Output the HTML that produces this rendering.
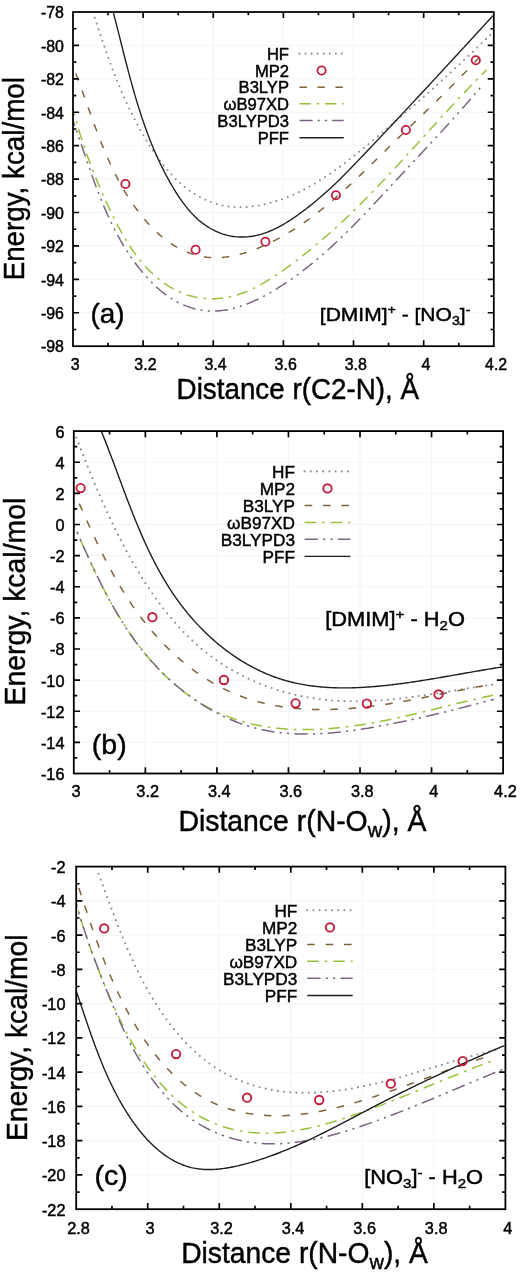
<!DOCTYPE html>
<html><head><meta charset="utf-8"><title>Energy curves</title>
<style>html,body{margin:0;padding:0;background:#fff;}body{width:520px;height:1274px;overflow:hidden;}svg{display:block;}</style>
</head><body>
<svg width="520" height="1274" viewBox="0 0 520 1274">
<style>text{stroke:#000;stroke-width:0.45px;paint-order:stroke;}</style>
<defs>
<clipPath id="clipa"><rect x="73" y="12" width="420.8" height="334.2"/></clipPath>
<clipPath id="clipb"><rect x="73.8" y="431.1" width="429.3" height="342.4"/></clipPath>
<clipPath id="clipc"><rect x="76.2" y="866.6" width="429.2" height="342.6"/></clipPath>
</defs>
<path d="M143.13,12V346.2M213.27,12V346.2M283.4,12V346.2M353.53,12V346.2M423.67,12V346.2M73,45.42H493.8M73,78.84H493.8M73,112.26H493.8M73,145.68H493.8M73,179.1H493.8M73,212.52H493.8M73,245.94H493.8M73,279.36H493.8M73,312.78H493.8" stroke="#f4f4f4" stroke-width="1" fill="none"/>
<g clip-path="url(#clipa)" fill="none">
<path d="M94.82,17.86 L95.27,19.23 L95.71,20.6 L96.16,21.97 L96.6,23.34 L97.05,24.71 L97.5,26.07 L97.94,27.43 L98.39,28.8 L98.84,30.16 L99.29,31.52 L99.74,32.87 L100.19,34.23 L100.65,35.58 L101.1,36.93 L101.55,38.29 L102.01,39.64 L102.47,40.98 L102.92,42.33 L103.38,43.67 L103.85,45.02 L104.31,46.36 L104.77,47.7 L105.24,49.04 L105.7,50.38 L106.17,51.71 L106.64,53.05 L107.12,54.38 L107.59,55.71 L108.07,57.04 L108.55,58.37 L109.03,59.69 L109.51,61.02 L110,62.34 L110.48,63.66 L110.97,64.98 L111.47,66.3 L111.96,67.62 L112.46,68.93 L112.96,70.24 L113.46,71.56 L113.97,72.87 L114.47,74.18 L114.98,75.48 L115.5,76.79 L116.01,78.09 L116.53,79.4 L117.06,80.7 L117.58,82 L118.11,83.29 L118.64,84.59 L119.18,85.89 L119.72,87.18 L120.26,88.47 L120.81,89.76 L121.36,91.05 L121.91,92.34 L122.47,93.62 L123.03,94.9 L123.59,96.19 L124.16,97.47 L124.74,98.74 L125.31,100.02 L125.89,101.3 L126.48,102.57 L127.07,103.84 L127.66,105.11 L128.26,106.38 L128.86,107.65 L129.47,108.92 L130.08,110.18 L130.69,111.44 L131.31,112.7 L131.94,113.96 L132.57,115.22 L133.2,116.48 L133.84,117.73 L134.49,118.98 L135.13,120.24 L135.79,121.48 L136.45,122.73 L137.11,123.98 L137.78,125.22 L138.46,126.47 L139.14,127.71 L139.82,128.95 L140.52,130.19 L141.21,131.42 L141.92,132.66 L142.62,133.89 L143.34,135.12 L144.06,136.35 L144.78,137.58 L145.52,138.81 L146.25,140.03 L147,141.25 L147.75,142.48 L148.5,143.7 L149.27,144.91 L150.04,146.13 L150.81,147.34 L151.59,148.54 L152.38,149.75 L153.18,150.95 L153.98,152.14 L154.79,153.33 L155.61,154.52 L156.43,155.7 L157.26,156.88 L158.1,158.05 L158.95,159.21 L159.8,160.37 L160.66,161.52 L161.53,162.66 L162.41,163.79 L163.3,164.92 L164.19,166.04 L165.09,167.15 L166,168.26 L166.92,169.35 L167.85,170.44 L168.79,171.51 L169.73,172.58 L170.69,173.63 L171.65,174.68 L172.62,175.71 L173.6,176.74 L174.59,177.75 L175.59,178.75 L176.6,179.74 L177.62,180.71 L178.65,181.68 L179.69,182.63 L180.73,183.57 L181.79,184.49 L182.86,185.4 L183.94,186.3 L185.03,187.18 L186.12,188.05 L187.23,188.9 L188.35,189.74 L189.48,190.56 L190.62,191.37 L191.78,192.16 L192.94,192.93 L194.11,193.68 L195.3,194.42 L196.49,195.14 L197.7,195.85 L198.92,196.53 L200.15,197.2 L201.39,197.85 L202.64,198.48 L203.9,199.09 L205.17,199.68 L206.45,200.25 L207.74,200.8 L209.04,201.33 L210.35,201.84 L211.66,202.33 L212.99,202.79 L214.32,203.23 L215.65,203.66 L217,204.05 L218.35,204.43 L219.71,204.78 L221.07,205.11 L222.44,205.41 L223.81,205.69 L225.19,205.95 L226.58,206.18 L227.97,206.38 L229.36,206.56 L230.76,206.72 L232.16,206.85 L233.56,206.95 L234.97,207.04 L236.37,207.1 L237.78,207.14 L239.19,207.15 L240.61,207.15 L242.02,207.12 L243.43,207.08 L244.84,207.01 L246.25,206.93 L247.66,206.83 L249.07,206.71 L250.48,206.57 L251.88,206.41 L253.28,206.24 L254.68,206.05 L256.08,205.84 L257.47,205.62 L258.85,205.38 L260.23,205.13 L261.61,204.87 L262.98,204.59 L264.35,204.3 L265.72,203.99 L267.08,203.67 L268.43,203.34 L269.78,202.99 L271.13,202.63 L272.47,202.26 L273.81,201.87 L275.14,201.47 L276.47,201.06 L277.79,200.64 L279.12,200.2 L280.43,199.75 L281.75,199.29 L283.05,198.82 L284.36,198.33 L285.66,197.84 L286.96,197.33 L288.25,196.81 L289.54,196.28 L290.82,195.74 L292.1,195.19 L293.38,194.63 L294.66,194.06 L295.93,193.48 L297.19,192.89 L298.46,192.29 L299.71,191.67 L300.97,191.05 L302.22,190.42 L303.47,189.78 L304.72,189.13 L305.96,188.47 L307.19,187.81 L308.43,187.13 L309.66,186.45 L310.89,185.76 L312.11,185.05 L313.33,184.35 L314.55,183.63 L315.77,182.9 L316.98,182.17 L318.19,181.43 L319.39,180.69 L320.6,179.93 L321.8,179.17 L322.99,178.4 L324.18,177.63 L325.38,176.85 L326.56,176.06 L327.75,175.27 L328.93,174.47 L330.11,173.67 L331.28,172.85 L332.46,172.04 L333.63,171.22 L334.8,170.39 L335.96,169.56 L337.12,168.72 L338.28,167.88 L339.44,167.03 L340.6,166.18 L341.75,165.33 L342.9,164.47 L344.05,163.61 L345.19,162.74 L346.34,161.87 L347.48,160.99 L348.61,160.12 L349.75,159.24 L350.88,158.35 L352.02,157.47 L353.15,156.58 L354.27,155.68 L355.4,154.79 L356.52,153.89 L357.64,153 L358.76,152.1 L359.88,151.19 L360.99,150.29 L362.11,149.38 L363.22,148.48 L364.33,147.57 L365.43,146.66 L366.54,145.75 L367.64,144.84 L368.75,143.93 L369.85,143.02 L370.95,142.11 L372.04,141.2 L373.14,140.28 L374.23,139.37 L375.32,138.46 L376.42,137.55 L377.51,136.64 L378.59,135.73 L379.68,134.82 L380.77,133.91 L381.85,133 L382.93,132.09 L384.01,131.18 L385.09,130.27 L386.17,129.35 L387.25,128.44 L388.32,127.53 L389.4,126.62 L390.47,125.71 L391.54,124.8 L392.61,123.89 L393.68,122.98 L394.75,122.07 L395.82,121.15 L396.88,120.24 L397.95,119.33 L399.01,118.42 L400.07,117.5 L401.13,116.59 L402.19,115.67 L403.25,114.76 L404.31,113.85 L405.37,112.93 L406.43,112.01 L407.48,111.1 L408.54,110.18 L409.59,109.27 L410.64,108.35 L411.7,107.43 L412.75,106.51 L413.8,105.59 L414.85,104.67 L415.89,103.75 L416.94,102.83 L417.99,101.91 L419.04,100.99 L420.08,100.06 L421.13,99.14 L422.17,98.22 L423.22,97.29 L424.26,96.36 L425.3,95.44 L426.34,94.51 L427.39,93.58 L428.43,92.65 L429.47,91.72 L430.51,90.79 L431.55,89.86 L432.58,88.93 L433.62,87.99 L434.66,87.06 L435.7,86.12 L436.74,85.18 L437.77,84.25 L438.81,83.31 L439.85,82.37 L440.88,81.43 L441.92,80.48 L442.95,79.54 L443.99,78.6 L445.03,77.65 L446.06,76.7 L447.1,75.76 L448.13,74.81 L449.16,73.85 L450.2,72.9 L451.23,71.95 L452.27,71 L453.3,70.04 L454.34,69.08 L455.37,68.12 L456.4,67.16 L457.44,66.2 L458.47,65.24 L459.51,64.27 L460.54,63.31 L461.58,62.34 L462.61,61.37 L463.65,60.4 L464.68,59.43 L465.72,58.46 L466.75,57.48 L467.79,56.5 L468.82,55.52 L469.86,54.54 L470.9,53.56 L471.93,52.58 L472.97,51.59 L474.01,50.61 L475.05,49.62 L476.08,48.63 L477.12,47.64 L478.16,46.64 L479.2,45.64 L480.24,44.65 L481.28,43.65 L482.32,42.65 L483.36,41.64 L484.41,40.64 L485.45,39.63 L486.49,38.62 L487.54,37.61 L488.58,36.59 L489.63,35.58 L490.67,34.56" stroke="#8e8e8e" stroke-width="2.05" stroke-linecap="round" stroke-linejoin="round" stroke-dasharray="0 6.06"/>
<path d="M69.25,56.85 L72.91,66.16 L73.45,67.53 L73.99,68.9 L74.53,70.27 L75.07,71.65 L75.6,73.03 L76.13,74.41 L76.65,75.79 L77.18,77.17 L77.7,78.56 L78.22,79.94 L78.73,81.33 L79.25,82.72 L79.76,84.11 L80.27,85.5 L80.78,86.9 L81.29,88.29 L81.8,89.69 L82.3,91.08 L82.81,92.48 L83.31,93.88 L83.81,95.28 L84.32,96.68 L84.82,98.08 L85.32,99.48 L85.82,100.88 L86.32,102.28 L86.82,103.69 L87.32,105.09 L87.82,106.49 L88.33,107.9 L88.83,109.3 L89.33,110.7 L89.83,112.11 L90.34,113.51 L90.84,114.91 L91.35,116.32 L91.85,117.72 L92.36,119.12 L92.87,120.53 L93.38,121.93 L93.9,123.33 L94.41,124.73 L94.93,126.13 L95.45,127.53 L95.97,128.92 L96.49,130.32 L97.02,131.72 L97.54,133.11 L98.08,134.5 L98.61,135.9 L99.15,137.29 L99.69,138.68 L100.23,140.07 L100.78,141.45 L101.33,142.84 L101.88,144.22 L102.44,145.6 L103,146.98 L103.57,148.36 L104.13,149.74 L104.71,151.11 L105.29,152.48 L105.87,153.85 L106.46,155.22 L107.05,156.59 L107.64,157.95 L108.25,159.31 L108.85,160.67 L109.47,162.03 L110.08,163.38 L110.71,164.73 L111.33,166.08 L111.97,167.42 L112.61,168.77 L113.26,170.11 L113.91,171.44 L114.57,172.77 L115.23,174.1 L115.9,175.43 L116.58,176.75 L117.27,178.07 L117.96,179.39 L118.66,180.7 L119.36,182.01 L120.08,183.32 L120.8,184.62 L121.53,185.92 L122.26,187.21 L123,188.5 L123.76,189.79 L124.52,191.07 L125.28,192.35 L126.06,193.62 L126.84,194.89 L127.64,196.16 L128.44,197.42 L129.25,198.67 L130.07,199.93 L130.9,201.17 L131.73,202.42 L132.58,203.65 L133.44,204.89 L134.3,206.11 L135.18,207.34 L136.06,208.55 L136.96,209.77 L137.86,210.97 L138.78,212.17 L139.71,213.37 L140.64,214.56 L141.59,215.75 L142.55,216.93 L143.52,218.1 L144.49,219.27 L145.48,220.43 L146.48,221.58 L147.49,222.72 L148.52,223.86 L149.55,224.98 L150.59,226.09 L151.65,227.2 L152.71,228.29 L153.79,229.37 L154.88,230.44 L155.98,231.49 L157.09,232.53 L158.21,233.56 L159.34,234.58 L160.48,235.57 L161.63,236.56 L162.8,237.52 L163.98,238.47 L165.16,239.4 L166.36,240.32 L167.57,241.21 L168.79,242.09 L170.03,242.95 L171.27,243.79 L172.52,244.6 L173.79,245.4 L175.06,246.18 L176.35,246.93 L177.64,247.66 L178.94,248.37 L180.25,249.06 L181.57,249.72 L182.9,250.36 L184.24,250.98 L185.58,251.57 L186.93,252.14 L188.29,252.68 L189.65,253.19 L191.02,253.68 L192.4,254.15 L193.78,254.58 L195.17,254.99 L196.56,255.37 L197.96,255.72 L199.36,256.05 L200.76,256.34 L202.17,256.61 L203.58,256.84 L205,257.05 L206.42,257.23 L207.84,257.38 L209.27,257.5 L210.7,257.6 L212.13,257.67 L213.56,257.71 L214.99,257.72 L216.43,257.71 L217.87,257.68 L219.31,257.62 L220.75,257.53 L222.19,257.43 L223.63,257.3 L225.07,257.14 L226.52,256.96 L227.96,256.76 L229.41,256.54 L230.85,256.3 L232.29,256.04 L233.74,255.75 L235.18,255.45 L236.62,255.13 L238.06,254.79 L239.5,254.42 L240.94,254.04 L242.38,253.65 L243.81,253.23 L245.25,252.8 L246.68,252.35 L248.11,251.89 L249.53,251.41 L250.95,250.91 L252.37,250.4 L253.79,249.88 L255.21,249.34 L256.62,248.78 L258.02,248.22 L259.42,247.64 L260.82,247.05 L262.22,246.44 L263.61,245.83 L264.99,245.2 L266.37,244.57 L267.75,243.92 L269.12,243.27 L270.48,242.6 L271.84,241.93 L273.2,241.24 L274.54,240.55 L275.88,239.85 L277.22,239.15 L278.55,238.43 L279.87,237.71 L281.19,236.98 L282.5,236.25 L283.81,235.5 L285.11,234.75 L286.4,233.99 L287.69,233.23 L288.98,232.46 L290.26,231.68 L291.53,230.89 L292.8,230.1 L294.06,229.3 L295.32,228.49 L296.58,227.68 L297.83,226.86 L299.07,226.04 L300.31,225.21 L301.54,224.37 L302.77,223.53 L304,222.68 L305.22,221.83 L306.43,220.96 L307.65,220.1 L308.85,219.23 L310.06,218.35 L311.25,217.47 L312.45,216.58 L313.64,215.69 L314.83,214.79 L316.01,213.89 L317.19,212.98 L318.36,212.07 L319.53,211.15 L320.7,210.23 L321.86,209.3 L323.03,208.37 L324.18,207.43 L325.34,206.49 L326.49,205.55 L327.63,204.6 L328.78,203.64 L329.92,202.69 L331.05,201.73 L332.19,200.76 L333.32,199.79 L334.45,198.82 L335.57,197.85 L336.69,196.87 L337.81,195.89 L338.93,194.9 L340.05,193.91 L341.16,192.92 L342.27,191.93 L343.38,190.93 L344.48,189.93 L345.58,188.92 L346.68,187.92 L347.78,186.91 L348.88,185.9 L349.97,184.88 L351.06,183.87 L352.16,182.85 L353.24,181.83 L354.33,180.81 L355.42,179.78 L356.5,178.76 L357.58,177.73 L358.66,176.7 L359.74,175.67 L360.82,174.63 L361.9,173.6 L362.97,172.56 L364.05,171.53 L365.12,170.49 L366.19,169.45 L367.26,168.41 L368.33,167.37 L369.4,166.33 L370.47,165.28 L371.54,164.24 L372.61,163.2 L373.67,162.15 L374.74,161.11 L375.8,160.06 L376.87,159.01 L377.93,157.97 L379,156.92 L380.06,155.88 L381.13,154.83 L382.19,153.79 L383.26,152.74 L384.32,151.7 L385.39,150.65 L386.45,149.61 L387.52,148.56 L388.58,147.52 L389.65,146.48 L390.71,145.44 L391.78,144.4 L392.85,143.36 L393.92,142.32 L394.98,141.28 L396.05,140.25 L397.12,139.21 L398.19,138.17 L399.26,137.14 L400.32,136.1 L401.39,135.07 L402.46,134.03 L403.53,133 L404.6,131.97 L405.67,130.93 L406.74,129.9 L407.81,128.87 L408.88,127.83 L409.95,126.8 L411.02,125.77 L412.09,124.74 L413.16,123.7 L414.23,122.67 L415.3,121.64 L416.37,120.61 L417.43,119.58 L418.5,118.54 L419.57,117.51 L420.64,116.48 L421.71,115.45 L422.78,114.41 L423.84,113.38 L424.91,112.35 L425.98,111.31 L427.04,110.28 L428.11,109.24 L429.17,108.21 L430.24,107.17 L431.3,106.13 L432.37,105.1 L433.43,104.06 L434.5,103.02 L435.56,101.98 L436.62,100.94 L437.68,99.9 L438.74,98.86 L439.8,97.82 L440.86,96.77 L441.92,95.73 L442.98,94.69 L444.04,93.64 L445.09,92.59 L446.15,91.55 L447.2,90.5 L448.26,89.45 L449.31,88.4 L450.36,87.34 L451.42,86.29 L452.47,85.23 L453.52,84.18 L454.57,83.12 L455.61,82.06 L456.66,81 L457.71,79.94 L458.75,78.88 L459.8,77.81 L460.84,76.75 L461.88,75.68 L462.92,74.61 L463.96,73.54 L465,72.47 L466.03,71.39 L467.07,70.32 L468.1,69.24 L469.14,68.16 L470.17,67.08 L471.2,65.99 L472.23,64.91 L473.26,63.82 L474.28,62.73 L475.31,61.64 L476.33,60.55 L477.35,59.45 L478.38,58.36 L479.4,57.26 L480.41,56.15 L481.43,55.05" stroke="#7d633a" stroke-width="1.47" stroke-linecap="butt" stroke-linejoin="round" stroke-dasharray="7.43 10.56"/>
<path d="M71.45,104.71 L74.18,114.33 L74.61,115.84 L75.04,117.35 L75.47,118.85 L75.9,120.35 L76.33,121.84 L76.77,123.33 L77.21,124.82 L77.66,126.3 L78.11,127.78 L78.56,129.26 L79.01,130.74 L79.47,132.21 L79.93,133.67 L80.39,135.14 L80.85,136.6 L81.32,138.06 L81.79,139.51 L82.27,140.97 L82.75,142.42 L83.23,143.86 L83.71,145.31 L84.2,146.75 L84.69,148.19 L85.19,149.63 L85.69,151.06 L86.19,152.5 L86.69,153.93 L87.2,155.35 L87.71,156.78 L88.23,158.2 L88.74,159.62 L89.27,161.04 L89.79,162.46 L90.32,163.88 L90.85,165.29 L91.39,166.7 L91.93,168.11 L92.47,169.52 L93.02,170.92 L93.57,172.33 L94.13,173.73 L94.68,175.14 L95.25,176.54 L95.81,177.94 L96.38,179.33 L96.96,180.73 L97.53,182.13 L98.12,183.52 L98.7,184.91 L99.29,186.31 L99.88,187.7 L100.48,189.09 L101.08,190.48 L101.69,191.87 L102.3,193.25 L102.91,194.64 L103.53,196.03 L104.15,197.42 L104.78,198.8 L105.41,200.19 L106.04,201.57 L106.68,202.96 L107.33,204.34 L107.98,205.73 L108.63,207.11 L109.28,208.49 L109.95,209.88 L110.61,211.26 L111.28,212.65 L111.96,214.03 L112.63,215.41 L113.32,216.8 L114.01,218.18 L114.7,219.56 L115.4,220.94 L116.11,222.32 L116.82,223.69 L117.54,225.07 L118.26,226.44 L119,227.8 L119.73,229.17 L120.48,230.53 L121.23,231.88 L121.99,233.24 L122.76,234.59 L123.53,235.93 L124.31,237.27 L125.1,238.6 L125.9,239.93 L126.71,241.25 L127.52,242.56 L128.35,243.87 L129.18,245.17 L130.03,246.47 L130.88,247.75 L131.74,249.03 L132.61,250.3 L133.5,251.57 L134.39,252.82 L135.29,254.06 L136.21,255.3 L137.13,256.53 L138.07,257.74 L139.01,258.95 L139.97,260.15 L140.94,261.33 L141.92,262.51 L142.92,263.67 L143.92,264.82 L144.94,265.96 L145.97,267.09 L147.01,268.21 L148.07,269.31 L149.14,270.4 L150.22,271.48 L151.32,272.54 L152.43,273.59 L153.56,274.62 L154.7,275.64 L155.85,276.65 L157.02,277.64 L158.2,278.61 L159.39,279.57 L160.6,280.51 L161.82,281.43 L163.06,282.34 L164.31,283.23 L165.57,284.09 L166.84,284.94 L168.13,285.77 L169.42,286.58 L170.73,287.36 L172.05,288.12 L173.39,288.86 L174.73,289.58 L176.08,290.28 L177.45,290.95 L178.82,291.59 L180.21,292.21 L181.6,292.8 L183.01,293.37 L184.42,293.91 L185.85,294.42 L187.28,294.91 L188.72,295.36 L190.17,295.79 L191.63,296.19 L193.1,296.56 L194.57,296.9 L196.05,297.21 L197.53,297.5 L199.02,297.75 L200.51,297.98 L202.01,298.18 L203.51,298.35 L205.01,298.49 L206.52,298.6 L208.02,298.69 L209.53,298.75 L211.04,298.78 L212.55,298.78 L214.05,298.76 L215.56,298.71 L217.06,298.63 L218.56,298.52 L220.06,298.39 L221.55,298.23 L223.04,298.04 L224.53,297.83 L226.01,297.59 L227.48,297.32 L228.95,297.03 L230.41,296.71 L231.87,296.37 L233.32,296 L234.76,295.61 L236.2,295.19 L237.63,294.76 L239.06,294.29 L240.48,293.81 L241.9,293.31 L243.31,292.79 L244.72,292.24 L246.12,291.68 L247.51,291.1 L248.9,290.49 L250.29,289.88 L251.67,289.24 L253.04,288.59 L254.41,287.92 L255.78,287.23 L257.14,286.53 L258.49,285.81 L259.84,285.08 L261.18,284.34 L262.53,283.59 L263.86,282.82 L265.19,282.04 L266.52,281.24 L267.84,280.44 L269.16,279.63 L270.47,278.8 L271.78,277.97 L273.08,277.13 L274.38,276.28 L275.68,275.42 L276.97,274.56 L278.26,273.69 L279.54,272.81 L280.82,271.93 L282.09,271.04 L283.36,270.15 L284.63,269.25 L285.89,268.35 L287.15,267.45 L288.41,266.54 L289.66,265.63 L290.91,264.72 L292.15,263.8 L293.39,262.88 L294.63,261.96 L295.86,261.03 L297.09,260.1 L298.32,259.17 L299.54,258.23 L300.76,257.29 L301.98,256.34 L303.19,255.39 L304.4,254.44 L305.6,253.49 L306.8,252.53 L308,251.57 L309.2,250.61 L310.39,249.64 L311.58,248.67 L312.76,247.7 L313.95,246.72 L315.13,245.74 L316.3,244.76 L317.48,243.78 L318.65,242.79 L319.81,241.8 L320.98,240.8 L322.14,239.81 L323.3,238.81 L324.45,237.81 L325.61,236.8 L326.76,235.8 L327.9,234.79 L329.05,233.77 L330.19,232.76 L331.33,231.74 L332.46,230.72 L333.6,229.7 L334.73,228.67 L335.86,227.64 L336.98,226.61 L338.11,225.58 L339.23,224.55 L340.35,223.51 L341.46,222.47 L342.58,221.43 L343.69,220.38 L344.8,219.34 L345.91,218.29 L347.01,217.24 L348.11,216.19 L349.21,215.13 L350.31,214.07 L351.41,213.01 L352.5,211.95 L353.59,210.89 L354.68,209.83 L355.77,208.76 L356.86,207.69 L357.94,206.62 L359.02,205.55 L360.1,204.47 L361.18,203.39 L362.26,202.32 L363.33,201.24 L364.41,200.16 L365.48,199.07 L366.55,197.99 L367.62,196.9 L368.68,195.81 L369.75,194.72 L370.81,193.63 L371.88,192.54 L372.94,191.44 L373.99,190.35 L375.05,189.25 L376.11,188.15 L377.16,187.05 L378.22,185.95 L379.27,184.85 L380.32,183.75 L381.37,182.64 L382.42,181.53 L383.47,180.43 L384.51,179.32 L385.56,178.21 L386.6,177.1 L387.65,175.99 L388.69,174.87 L389.73,173.76 L390.77,172.64 L391.81,171.53 L392.85,170.41 L393.88,169.29 L394.92,168.17 L395.96,167.05 L396.99,165.93 L398.03,164.81 L399.06,163.69 L400.09,162.57 L401.13,161.44 L402.16,160.32 L403.19,159.2 L404.22,158.07 L405.25,156.94 L406.28,155.82 L407.31,154.69 L408.34,153.56 L409.37,152.44 L410.4,151.31 L411.42,150.18 L412.45,149.05 L413.48,147.92 L414.51,146.79 L415.53,145.66 L416.56,144.53 L417.59,143.4 L418.61,142.27 L419.64,141.14 L420.67,140.01 L421.69,138.88 L422.72,137.74 L423.75,136.61 L424.77,135.48 L425.8,134.35 L426.83,133.22 L427.86,132.09 L428.88,130.95 L429.91,129.82 L430.94,128.69 L431.97,127.56 L433,126.43 L434.03,125.3 L435.05,124.17 L436.08,123.04 L437.12,121.91 L438.15,120.78 L439.18,119.65 L440.21,118.52 L441.24,117.4 L442.28,116.27 L443.31,115.14 L444.34,114.01 L445.38,112.89 L446.42,111.76 L447.45,110.64 L448.49,109.51 L449.53,108.39 L450.57,107.27 L451.61,106.14 L452.65,105.02 L453.69,103.9 L454.74,102.78 L455.78,101.66 L456.83,100.54 L457.87,99.43 L458.92,98.31 L459.97,97.19 L461.02,96.08 L462.07,94.97 L463.13,93.85 L464.18,92.74 L465.24,91.63 L466.29,90.52 L467.35,89.41 L468.41,88.31 L469.47,87.2 L470.53,86.1 L471.6,84.99 L472.66,83.89 L473.73,82.79 L474.8,81.69 L475.87,80.59 L476.94,79.5 L478.02,78.4 L479.09,77.31 L480.17,76.22 L481.25,75.13 L482.33,74.04 L483.41,72.95 L484.5,71.86 L485.58,70.78 L486.67,69.7" stroke="#98c03a" stroke-width="1.47" stroke-linecap="butt" stroke-linejoin="round" stroke-dasharray="11.25 5.87 2.54 5.87"/>
<path d="M70.46,113.48 L73.8,122.91 L74.3,124.32 L74.81,125.73 L75.31,127.15 L75.8,128.57 L76.3,129.99 L76.8,131.42 L77.29,132.84 L77.79,134.27 L78.28,135.7 L78.77,137.13 L79.26,138.56 L79.75,139.99 L80.24,141.42 L80.73,142.86 L81.22,144.3 L81.71,145.73 L82.2,147.17 L82.69,148.61 L83.18,150.05 L83.67,151.49 L84.16,152.93 L84.65,154.38 L85.14,155.82 L85.63,157.26 L86.13,158.71 L86.62,160.15 L87.12,161.59 L87.62,163.04 L88.12,164.48 L88.62,165.92 L89.12,167.37 L89.62,168.81 L90.13,170.25 L90.63,171.7 L91.14,173.14 L91.65,174.58 L92.17,176.02 L92.69,177.46 L93.21,178.9 L93.73,180.34 L94.25,181.78 L94.78,183.22 L95.31,184.65 L95.84,186.09 L96.38,187.52 L96.92,188.95 L97.47,190.38 L98.01,191.81 L98.57,193.24 L99.12,194.66 L99.68,196.09 L100.25,197.51 L100.81,198.93 L101.39,200.35 L101.96,201.76 L102.54,203.18 L103.13,204.59 L103.72,206 L104.32,207.41 L104.92,208.81 L105.52,210.21 L106.14,211.61 L106.75,213.01 L107.38,214.4 L108,215.79 L108.64,217.18 L109.28,218.57 L109.92,219.95 L110.58,221.33 L111.23,222.7 L111.9,224.07 L112.57,225.44 L113.25,226.81 L113.93,228.17 L114.62,229.52 L115.32,230.88 L116.03,232.23 L116.74,233.57 L117.46,234.92 L118.19,236.25 L118.92,237.59 L119.66,238.92 L120.41,240.24 L121.17,241.56 L121.94,242.88 L122.71,244.19 L123.49,245.5 L124.29,246.8 L125.09,248.1 L125.89,249.39 L126.71,250.68 L127.54,251.96 L128.37,253.24 L129.21,254.51 L130.07,255.78 L130.93,257.04 L131.8,258.3 L132.68,259.55 L133.57,260.79 L134.47,262.03 L135.38,263.26 L136.3,264.49 L137.24,265.71 L138.18,266.93 L139.13,268.14 L140.09,269.34 L141.06,270.54 L142.04,271.73 L143.04,272.91 L144.04,274.09 L145.06,275.26 L146.09,276.42 L147.13,277.58 L148.17,278.72 L149.24,279.86 L150.31,280.98 L151.39,282.1 L152.48,283.2 L153.59,284.29 L154.71,285.36 L155.84,286.43 L156.98,287.48 L158.13,288.51 L159.29,289.53 L160.47,290.53 L161.66,291.51 L162.86,292.48 L164.07,293.43 L165.29,294.36 L166.53,295.27 L167.78,296.16 L169.04,297.03 L170.31,297.88 L171.59,298.7 L172.89,299.51 L174.2,300.29 L175.52,301.04 L176.85,301.77 L178.2,302.48 L179.56,303.16 L180.93,303.81 L182.31,304.44 L183.7,305.04 L185.1,305.62 L186.52,306.16 L187.94,306.68 L189.36,307.18 L190.8,307.64 L192.24,308.08 L193.69,308.48 L195.15,308.86 L196.61,309.21 L198.07,309.53 L199.54,309.82 L201.01,310.09 L202.48,310.32 L203.96,310.52 L205.44,310.69 L206.91,310.83 L208.39,310.94 L209.87,311.02 L211.35,311.06 L212.82,311.08 L214.3,311.07 L215.77,311.02 L217.25,310.95 L218.72,310.85 L220.19,310.72 L221.66,310.57 L223.13,310.39 L224.59,310.18 L226.06,309.95 L227.52,309.69 L228.98,309.4 L230.44,309.09 L231.89,308.76 L233.35,308.41 L234.8,308.03 L236.24,307.63 L237.69,307.21 L239.13,306.77 L240.57,306.31 L242.01,305.82 L243.45,305.32 L244.88,304.8 L246.3,304.26 L247.73,303.7 L249.15,303.13 L250.57,302.54 L251.98,301.93 L253.39,301.31 L254.79,300.67 L256.2,300.02 L257.59,299.35 L258.99,298.67 L260.38,297.97 L261.76,297.27 L263.14,296.55 L264.51,295.82 L265.88,295.07 L267.25,294.32 L268.61,293.56 L269.96,292.79 L271.31,292.01 L272.66,291.22 L274,290.42 L275.33,289.62 L276.66,288.81 L277.98,287.99 L279.29,287.17 L280.6,286.34 L281.91,285.5 L283.21,284.66 L284.5,283.81 L285.79,282.96 L287.07,282.1 L288.35,281.24 L289.62,280.37 L290.89,279.49 L292.15,278.61 L293.4,277.73 L294.65,276.84 L295.9,275.94 L297.14,275.04 L298.38,274.13 L299.61,273.22 L300.83,272.3 L302.06,271.38 L303.27,270.45 L304.48,269.52 L305.69,268.59 L306.9,267.65 L308.09,266.7 L309.29,265.75 L310.48,264.8 L311.67,263.84 L312.85,262.87 L314.02,261.91 L315.2,260.93 L316.37,259.96 L317.53,258.98 L318.69,257.99 L319.85,257 L321.01,256.01 L322.16,255.01 L323.3,254.01 L324.45,253.01 L325.59,252 L326.72,250.99 L327.86,249.98 L328.99,248.96 L330.11,247.94 L331.23,246.91 L332.35,245.88 L333.47,244.85 L334.58,243.82 L335.7,242.78 L336.8,241.74 L337.91,240.69 L339.01,239.64 L340.11,238.59 L341.21,237.54 L342.3,236.48 L343.39,235.43 L344.48,234.36 L345.57,233.3 L346.65,232.23 L347.73,231.16 L348.81,230.09 L349.89,229.02 L350.97,227.94 L352.04,226.87 L353.11,225.78 L354.18,224.7 L355.25,223.62 L356.31,222.53 L357.38,221.44 L358.44,220.35 L359.5,219.26 L360.56,218.17 L361.62,217.07 L362.67,215.97 L363.73,214.87 L364.78,213.77 L365.83,212.67 L366.88,211.57 L367.93,210.46 L368.98,209.36 L370.03,208.25 L371.07,207.14 L372.12,206.03 L373.16,204.92 L374.21,203.81 L375.25,202.7 L376.29,201.59 L377.33,200.47 L378.38,199.36 L379.42,198.24 L380.46,197.13 L381.5,196.01 L382.54,194.9 L383.57,193.78 L384.61,192.66 L385.65,191.55 L386.69,190.43 L387.73,189.31 L388.77,188.19 L389.81,187.07 L390.85,185.96 L391.89,184.84 L392.93,183.72 L393.97,182.6 L395.01,181.49 L396.05,180.37 L397.09,179.25 L398.13,178.14 L399.17,177.02 L400.21,175.9 L401.26,174.79 L402.3,173.67 L403.34,172.56 L404.38,171.44 L405.43,170.33 L406.47,169.21 L407.51,168.1 L408.56,166.98 L409.6,165.87 L410.64,164.75 L411.69,163.64 L412.73,162.52 L413.78,161.41 L414.82,160.29 L415.86,159.18 L416.91,158.06 L417.95,156.95 L418.99,155.83 L420.03,154.71 L421.08,153.6 L422.12,152.48 L423.16,151.37 L424.2,150.25 L425.24,149.13 L426.28,148.01 L427.32,146.9 L428.36,145.78 L429.4,144.66 L430.44,143.54 L431.48,142.42 L432.52,141.3 L433.56,140.18 L434.59,139.06 L435.63,137.94 L436.67,136.82 L437.7,135.7 L438.74,134.57 L439.77,133.45 L440.8,132.33 L441.83,131.2 L442.86,130.08 L443.89,128.95 L444.92,127.83 L445.95,126.7 L446.98,125.57 L448.01,124.44 L449.03,123.31 L450.06,122.18 L451.08,121.05 L452.1,119.92 L453.12,118.79 L454.15,117.66 L455.16,116.52 L456.18,115.39 L457.2,114.25 L458.22,113.11 L459.23,111.97 L460.24,110.84 L461.25,109.7 L462.26,108.56 L463.27,107.41 L464.28,106.27 L465.29,105.13 L466.29,103.98 L467.3,102.83 L468.3,101.69 L469.3,100.54 L470.3,99.39 L471.3,98.24 L472.29,97.08 L473.29,95.93 L474.28,94.78 L475.27,93.62 L476.26,92.46 L477.24,91.3 L478.23,90.14 L479.21,88.98 L480.2,87.82 L481.18,86.66 L482.15,85.49 L483.13,84.32" stroke="#7a6580" stroke-width="1.47" stroke-linecap="butt" stroke-linejoin="round" stroke-dasharray="13.01 5.09 2.15 5.09 2.15 5.09"/>
<path d="M110.63,2.12 L113.16,11.8 L113.55,13.31 L113.95,14.82 L114.34,16.33 L114.73,17.84 L115.12,19.35 L115.51,20.86 L115.9,22.37 L116.28,23.88 L116.67,25.39 L117.05,26.9 L117.43,28.41 L117.81,29.92 L118.19,31.42 L118.57,32.93 L118.95,34.44 L119.33,35.95 L119.71,37.45 L120.09,38.96 L120.47,40.46 L120.85,41.97 L121.22,43.47 L121.6,44.98 L121.98,46.48 L122.36,47.98 L122.74,49.48 L123.12,50.98 L123.5,52.48 L123.88,53.98 L124.26,55.48 L124.64,56.98 L125.02,58.48 L125.4,59.98 L125.78,61.47 L126.17,62.97 L126.56,64.46 L126.94,65.96 L127.33,67.45 L127.72,68.94 L128.11,70.43 L128.5,71.92 L128.9,73.41 L129.29,74.9 L129.69,76.39 L130.09,77.88 L130.49,79.36 L130.9,80.85 L131.3,82.33 L131.71,83.81 L132.12,85.29 L132.53,86.78 L132.95,88.25 L133.37,89.73 L133.79,91.21 L134.21,92.69 L134.64,94.16 L135.07,95.63 L135.5,97.11 L135.93,98.58 L136.37,100.05 L136.81,101.52 L137.26,102.99 L137.71,104.45 L138.16,105.92 L138.61,107.38 L139.07,108.84 L139.53,110.3 L140,111.76 L140.47,113.22 L140.95,114.68 L141.43,116.13 L141.91,117.59 L142.4,119.04 L142.89,120.49 L143.38,121.94 L143.88,123.39 L144.39,124.83 L144.9,126.28 L145.41,127.72 L145.93,129.16 L146.46,130.6 L146.99,132.04 L147.52,133.48 L148.06,134.91 L148.61,136.34 L149.16,137.77 L149.72,139.2 L150.28,140.63 L150.85,142.06 L151.42,143.48 L152,144.91 L152.58,146.33 L153.17,147.74 L153.77,149.16 L154.37,150.58 L154.98,151.99 L155.6,153.4 L156.22,154.81 L156.85,156.22 L157.49,157.62 L158.13,159.03 L158.78,160.43 L159.43,161.83 L160.1,163.22 L160.76,164.62 L161.44,166.01 L162.13,167.4 L162.82,168.79 L163.52,170.18 L164.22,171.56 L164.93,172.94 L165.66,174.32 L166.39,175.7 L167.12,177.08 L167.87,178.45 L168.62,179.82 L169.38,181.19 L170.15,182.56 L170.93,183.92 L171.71,185.28 L172.5,186.64 L173.31,188 L174.12,189.35 L174.94,190.69 L175.77,192.03 L176.61,193.36 L177.47,194.69 L178.33,196 L179.2,197.31 L180.09,198.61 L180.98,199.9 L181.89,201.18 L182.81,202.45 L183.74,203.71 L184.69,204.95 L185.64,206.18 L186.61,207.4 L187.6,208.6 L188.6,209.78 L189.61,210.95 L190.63,212.11 L191.67,213.24 L192.73,214.36 L193.8,215.46 L194.89,216.54 L195.99,217.6 L197.11,218.64 L198.24,219.66 L199.39,220.65 L200.56,221.63 L201.74,222.58 L202.95,223.5 L204.17,224.4 L205.4,225.28 L206.66,226.13 L207.94,226.95 L209.23,227.74 L210.54,228.51 L211.87,229.25 L213.22,229.96 L214.58,230.64 L215.95,231.28 L217.35,231.9 L218.75,232.49 L220.17,233.04 L221.6,233.56 L223.04,234.05 L224.5,234.5 L225.96,234.91 L227.44,235.3 L228.92,235.64 L230.41,235.95 L231.91,236.22 L233.42,236.46 L234.94,236.65 L236.45,236.81 L237.98,236.93 L239.51,237 L241.04,237.04 L242.57,237.04 L244.11,237 L245.64,236.93 L247.18,236.82 L248.71,236.67 L250.25,236.49 L251.77,236.28 L253.3,236.03 L254.82,235.74 L256.34,235.43 L257.84,235.08 L259.34,234.71 L260.84,234.3 L262.32,233.86 L263.79,233.39 L265.26,232.9 L266.71,232.38 L268.16,231.83 L269.59,231.26 L271.02,230.66 L272.44,230.04 L273.85,229.39 L275.25,228.73 L276.64,228.04 L278.02,227.33 L279.4,226.61 L280.77,225.86 L282.12,225.1 L283.47,224.32 L284.82,223.53 L286.15,222.72 L287.48,221.9 L288.8,221.07 L290.11,220.22 L291.41,219.36 L292.71,218.5 L294,217.62 L295.28,216.74 L296.55,215.84 L297.82,214.94 L299.08,214.04 L300.34,213.13 L301.59,212.21 L302.83,211.29 L304.07,210.36 L305.3,209.43 L306.52,208.49 L307.74,207.55 L308.95,206.6 L310.16,205.64 L311.36,204.68 L312.56,203.72 L313.75,202.75 L314.94,201.77 L316.12,200.79 L317.3,199.81 L318.47,198.82 L319.64,197.83 L320.8,196.83 L321.96,195.83 L323.12,194.82 L324.27,193.81 L325.42,192.8 L326.57,191.78 L327.71,190.75 L328.84,189.72 L329.97,188.69 L331.1,187.65 L332.23,186.6 L333.35,185.55 L334.46,184.5 L335.57,183.44 L336.68,182.37 L337.79,181.3 L338.89,180.23 L339.98,179.15 L341.08,178.07 L342.17,176.98 L343.26,175.89 L344.34,174.8 L345.43,173.7 L346.51,172.6 L347.59,171.5 L348.66,170.39 L349.74,169.29 L350.81,168.18 L351.88,167.07 L352.95,165.96 L354.02,164.84 L355.09,163.73 L356.16,162.62 L357.23,161.5 L358.3,160.39 L359.36,159.27 L360.43,158.15 L361.5,157.04 L362.56,155.92 L363.63,154.8 L364.7,153.69 L365.76,152.57 L366.83,151.45 L367.89,150.33 L368.95,149.21 L370.02,148.1 L371.08,146.98 L372.14,145.86 L373.21,144.74 L374.27,143.62 L375.33,142.5 L376.39,141.38 L377.45,140.25 L378.51,139.13 L379.58,138.01 L380.64,136.89 L381.7,135.77 L382.76,134.64 L383.81,133.52 L384.87,132.4 L385.93,131.28 L386.99,130.15 L388.05,129.03 L389.11,127.9 L390.17,126.78 L391.22,125.66 L392.28,124.53 L393.34,123.41 L394.39,122.28 L395.45,121.16 L396.51,120.03 L397.56,118.9 L398.62,117.78 L399.67,116.65 L400.73,115.52 L401.78,114.4 L402.84,113.27 L403.89,112.14 L404.95,111.01 L406,109.89 L407.05,108.76 L408.11,107.63 L409.16,106.5 L410.21,105.37 L411.26,104.24 L412.32,103.11 L413.37,101.99 L414.42,100.86 L415.47,99.73 L416.52,98.6 L417.57,97.47 L418.63,96.34 L419.68,95.21 L420.73,94.07 L421.78,92.94 L422.83,91.81 L423.88,90.68 L424.93,89.55 L425.98,88.42 L427.03,87.29 L428.08,86.16 L429.12,85.02 L430.17,83.89 L431.22,82.76 L432.27,81.63 L433.32,80.49 L434.37,79.36 L435.41,78.23 L436.46,77.09 L437.51,75.96 L438.56,74.83 L439.61,73.7 L440.65,72.56 L441.7,71.43 L442.75,70.29 L443.79,69.16 L444.84,68.03 L445.89,66.89 L446.93,65.76 L447.98,64.62 L449.02,63.49 L450.07,62.35 L451.12,61.22 L452.16,60.08 L453.21,58.95 L454.25,57.81 L455.3,56.68 L456.34,55.54 L457.39,54.41 L458.43,53.27 L459.48,52.14 L460.52,51 L461.57,49.87 L462.61,48.73 L463.66,47.6 L464.7,46.46 L465.75,45.32 L466.79,44.19 L467.83,43.05 L468.88,41.92 L469.92,40.78 L470.97,39.64 L472.01,38.51 L473.05,37.37 L474.1,36.24 L475.14,35.1 L476.18,33.96 L477.23,32.83 L478.27,31.69 L479.31,30.55 L480.36,29.42 L481.4,28.28 L482.44,27.14 L483.49,26.01 L484.53,24.87 L485.57,23.73 L486.62,22.6 L487.66,21.46 L488.7,20.32 L489.75,19.19 L490.79,18.05 L491.83,16.91 L492.87,15.78" stroke="#1e1e1e" stroke-width="1.37" stroke-linecap="butt" stroke-linejoin="round"/>
<circle cx="125.4" cy="184" r="4.11" stroke="#c41c3c" stroke-width="1.86" fill="none"/>
<circle cx="195.6" cy="249.8" r="4.11" stroke="#c41c3c" stroke-width="1.86" fill="none"/>
<circle cx="265.4" cy="241.8" r="4.11" stroke="#c41c3c" stroke-width="1.86" fill="none"/>
<circle cx="335.9" cy="195.2" r="4.11" stroke="#c41c3c" stroke-width="1.86" fill="none"/>
<circle cx="405.9" cy="130" r="4.11" stroke="#c41c3c" stroke-width="1.86" fill="none"/>
<circle cx="475.8" cy="60.2" r="4.11" stroke="#c41c3c" stroke-width="1.86" fill="none"/>
</g>
<rect x="73" y="12" width="420.8" height="334.2" fill="none" stroke="#000" stroke-width="1.76"/>
<path d="M108.07,346.2v-3.33M108.07,12v3.33M143.13,346.2v-6.06M143.13,12v6.06M178.2,346.2v-3.33M178.2,12v3.33M213.27,346.2v-6.06M213.27,12v6.06M248.33,346.2v-3.33M248.33,12v3.33M283.4,346.2v-6.06M283.4,12v6.06M318.47,346.2v-3.33M318.47,12v3.33M353.53,346.2v-6.06M353.53,12v6.06M388.6,346.2v-3.33M388.6,12v3.33M423.67,346.2v-6.06M423.67,12v6.06M458.73,346.2v-3.33M458.73,12v3.33M73,28.71h3.33M493.8,28.71h-3.33M73,45.42h6.06M493.8,45.42h-6.06M73,62.13h3.33M493.8,62.13h-3.33M73,78.84h6.06M493.8,78.84h-6.06M73,95.55h3.33M493.8,95.55h-3.33M73,112.26h6.06M493.8,112.26h-6.06M73,128.97h3.33M493.8,128.97h-3.33M73,145.68h6.06M493.8,145.68h-6.06M73,162.39h3.33M493.8,162.39h-3.33M73,179.1h6.06M493.8,179.1h-6.06M73,195.81h3.33M493.8,195.81h-3.33M73,212.52h6.06M493.8,212.52h-6.06M73,229.23h3.33M493.8,229.23h-3.33M73,245.94h6.06M493.8,245.94h-6.06M73,262.65h3.33M493.8,262.65h-3.33M73,279.36h6.06M493.8,279.36h-6.06M73,296.07h3.33M493.8,296.07h-3.33M73,312.78h6.06M493.8,312.78h-6.06M73,329.49h3.33M493.8,329.49h-3.33" stroke="#000" stroke-width="1.66" fill="none"/>
<g font-family="'Liberation Sans', Arial, Helvetica, sans-serif" font-size="15.94" fill="#000">
<text x="64" y="18.26" text-anchor="end">-78</text>
<text x="64" y="51.68" text-anchor="end">-80</text>
<text x="64" y="85.1" text-anchor="end">-82</text>
<text x="64" y="118.52" text-anchor="end">-84</text>
<text x="64" y="151.94" text-anchor="end">-86</text>
<text x="64" y="185.36" text-anchor="end">-88</text>
<text x="64" y="218.78" text-anchor="end">-90</text>
<text x="64" y="252.2" text-anchor="end">-92</text>
<text x="64" y="285.62" text-anchor="end">-94</text>
<text x="64" y="319.04" text-anchor="end">-96</text>
<text x="64" y="352.46" text-anchor="end">-98</text>
<text x="75.3" y="369.5" text-anchor="middle">3</text>
<text x="145.43" y="369.5" text-anchor="middle">3.2</text>
<text x="215.57" y="369.5" text-anchor="middle">3.4</text>
<text x="285.7" y="369.5" text-anchor="middle">3.6</text>
<text x="355.83" y="369.5" text-anchor="middle">3.8</text>
<text x="425.97" y="369.5" text-anchor="middle">4</text>
<text x="496.1" y="369.5" text-anchor="middle">4.2</text>
</g>
<text transform="translate(176.6,399) scale(0.9569,1)" x="0" y="0" font-family="'Liberation Sans', Arial, Helvetica, sans-serif" font-size="29.05">Distance r(C2-N), Å</text>
<text transform="translate(24.1,178.7) rotate(-90) scale(0.9569,1)" text-anchor="middle" font-family="'Liberation Sans', Arial, Helvetica, sans-serif" font-size="29.05">Energy, kcal/mol</text>
<text x="90.6" y="322.7" font-family="'Liberation Sans', Arial, Helvetica, sans-serif" font-size="27.87">(a)</text>
<g font-family="'Liberation Sans', Arial, Helvetica, sans-serif" font-size="16.6" text-anchor="end">
<text x="289" y="59.6">HF</text>
<text x="289" y="76.5">MP2</text>
<text x="289" y="93.2">B3LYP</text>
<text x="289" y="109.8">ωB97XD</text>
<text x="289" y="126.6">B3LYPD3</text>
<text x="289" y="143.8">PFF</text>
</g>
<path d="M299.5,53.6H343.7" stroke="#8e8e8e" stroke-width="2.05" stroke-linecap="round" stroke-dasharray="0 6.06"/>
<circle cx="321.6" cy="70.5" r="4.11" stroke="#c41c3c" stroke-width="1.86" fill="none"/>
<path d="M299.5,87.2H343.7" stroke="#7d633a" stroke-width="1.47" stroke-linecap="butt" stroke-dasharray="7.43 10.56"/>
<path d="M299.5,103.8H343.7" stroke="#98c03a" stroke-width="1.47" stroke-linecap="butt" stroke-dasharray="11.25 5.87 2.54 5.87"/>
<path d="M299.5,120.6H343.7" stroke="#7a6580" stroke-width="1.47" stroke-linecap="butt" stroke-dasharray="13.01 5.09 2.15 5.09 2.15 5.09"/>
<path d="M299.5,137.8H343.7" stroke="#1e1e1e" stroke-width="1.37" stroke-linecap="butt"/>
<path d="M145.35,431.1V773.5M216.9,431.1V773.5M288.45,431.1V773.5M360,431.1V773.5M431.55,431.1V773.5M73.8,462.23H503.1M73.8,493.35H503.1M73.8,524.48H503.1M73.8,555.61H503.1M73.8,586.74H503.1M73.8,617.86H503.1M73.8,648.99H503.1M73.8,680.12H503.1M73.8,711.25H503.1M73.8,742.37H503.1" stroke="#f4f4f4" stroke-width="1" fill="none"/>
<g clip-path="url(#clipb)" fill="none">
<path d="M76.39,437.82 L76.88,439.11 L77.38,440.4 L77.88,441.7 L78.38,442.99 L78.89,444.28 L79.39,445.57 L79.89,446.86 L80.39,448.15 L80.9,449.44 L81.4,450.73 L81.91,452.02 L82.41,453.31 L82.92,454.6 L83.43,455.89 L83.93,457.18 L84.44,458.46 L84.95,459.75 L85.46,461.04 L85.98,462.32 L86.49,463.61 L87,464.89 L87.52,466.18 L88.04,467.46 L88.55,468.75 L89.07,470.03 L89.59,471.31 L90.12,472.6 L90.64,473.88 L91.16,475.16 L91.69,476.44 L92.22,477.72 L92.74,479 L93.27,480.28 L93.81,481.56 L94.34,482.84 L94.87,484.11 L95.41,485.39 L95.95,486.67 L96.49,487.94 L97.03,489.22 L97.57,490.49 L98.12,491.77 L98.66,493.04 L99.21,494.31 L99.76,495.58 L100.31,496.86 L100.87,498.13 L101.42,499.4 L101.98,500.66 L102.54,501.93 L103.1,503.2 L103.67,504.47 L104.24,505.73 L104.8,507 L105.38,508.26 L105.95,509.53 L106.52,510.79 L107.1,512.05 L107.68,513.32 L108.26,514.58 L108.85,515.84 L109.44,517.1 L110.03,518.35 L110.62,519.61 L111.21,520.87 L111.81,522.12 L112.41,523.38 L113.01,524.63 L113.62,525.89 L114.23,527.14 L114.84,528.39 L115.45,529.64 L116.07,530.89 L116.69,532.14 L117.31,533.38 L117.93,534.63 L118.56,535.88 L119.19,537.12 L119.83,538.37 L120.46,539.61 L121.1,540.85 L121.75,542.09 L122.39,543.33 L123.04,544.57 L123.69,545.81 L124.35,547.04 L125.01,548.28 L125.67,549.51 L126.34,550.75 L127.01,551.98 L127.68,553.21 L128.36,554.44 L129.03,555.67 L129.72,556.9 L130.4,558.13 L131.09,559.35 L131.79,560.58 L132.48,561.8 L133.19,563.02 L133.89,564.24 L134.6,565.46 L135.31,566.67 L136.02,567.89 L136.74,569.1 L137.47,570.31 L138.19,571.52 L138.92,572.73 L139.66,573.93 L140.4,575.14 L141.14,576.34 L141.88,577.54 L142.63,578.73 L143.39,579.93 L144.14,581.12 L144.91,582.31 L145.67,583.49 L146.44,584.68 L147.21,585.86 L147.99,587.03 L148.77,588.21 L149.56,589.38 L150.35,590.55 L151.14,591.72 L151.94,592.88 L152.74,594.04 L153.55,595.19 L154.36,596.35 L155.18,597.49 L156,598.64 L156.82,599.78 L157.65,600.92 L158.48,602.06 L159.32,603.19 L160.16,604.31 L161,605.44 L161.85,606.56 L162.71,607.67 L163.57,608.78 L164.43,609.89 L165.3,610.99 L166.17,612.09 L167.05,613.18 L167.93,614.27 L168.81,615.36 L169.71,616.44 L170.6,617.51 L171.5,618.58 L172.41,619.65 L173.32,620.71 L174.23,621.77 L175.15,622.82 L176.07,623.86 L177,624.9 L177.93,625.94 L178.87,626.97 L179.82,627.99 L180.76,629.01 L181.72,630.03 L182.68,631.04 L183.64,632.04 L184.61,633.04 L185.58,634.03 L186.56,635.01 L187.54,635.99 L188.53,636.97 L189.52,637.93 L190.52,638.89 L191.52,639.85 L192.53,640.8 L193.55,641.74 L194.57,642.68 L195.59,643.61 L196.62,644.53 L197.66,645.45 L198.7,646.36 L199.74,647.26 L200.79,648.16 L201.85,649.05 L202.91,649.93 L203.98,650.81 L205.05,651.67 L206.13,652.54 L207.21,653.39 L208.3,654.24 L209.39,655.08 L210.49,655.91 L211.6,656.73 L212.71,657.55 L213.83,658.36 L214.95,659.16 L216.08,659.96 L217.21,660.75 L218.35,661.53 L219.49,662.3 L220.64,663.07 L221.79,663.82 L222.95,664.57 L224.11,665.32 L225.28,666.05 L226.45,666.78 L227.63,667.5 L228.81,668.21 L230,668.92 L231.19,669.62 L232.38,670.31 L233.58,670.99 L234.79,671.67 L236,672.33 L237.21,672.99 L238.43,673.65 L239.65,674.29 L240.88,674.93 L242.11,675.56 L243.34,676.18 L244.58,676.8 L245.82,677.41 L247.07,678.01 L248.32,678.6 L249.58,679.18 L250.83,679.76 L252.1,680.33 L253.36,680.89 L254.63,681.45 L255.9,682 L257.18,682.54 L258.46,683.07 L259.74,683.59 L261.03,684.11 L262.32,684.62 L263.61,685.12 L264.91,685.61 L266.21,686.1 L267.51,686.58 L268.82,687.05 L270.13,687.51 L271.44,687.97 L272.76,688.42 L274.07,688.86 L275.39,689.29 L276.72,689.72 L278.04,690.13 L279.37,690.54 L280.7,690.95 L282.04,691.34 L283.37,691.73 L284.71,692.11 L286.05,692.48 L287.4,692.84 L288.74,693.2 L290.09,693.55 L291.44,693.89 L292.79,694.22 L294.15,694.55 L295.5,694.87 L296.86,695.18 L298.22,695.48 L299.59,695.77 L300.95,696.06 L302.32,696.34 L303.68,696.61 L305.05,696.87 L306.42,697.13 L307.8,697.38 L309.17,697.62 L310.55,697.85 L311.92,698.08 L313.3,698.3 L314.68,698.5 L316.06,698.71 L317.44,698.9 L318.83,699.09 L320.21,699.27 L321.6,699.44 L322.98,699.6 L324.37,699.75 L325.76,699.9 L327.15,700.04 L328.54,700.17 L329.93,700.3 L331.32,700.41 L332.71,700.52 L334.1,700.62 L335.5,700.72 L336.89,700.8 L338.28,700.88 L339.68,700.95 L341.07,701.02 L342.47,701.08 L343.87,701.13 L345.26,701.17 L346.66,701.21 L348.06,701.24 L349.46,701.26 L350.86,701.28 L352.26,701.29 L353.66,701.29 L355.06,701.29 L356.46,701.28 L357.86,701.27 L359.26,701.25 L360.66,701.22 L362.06,701.19 L363.46,701.16 L364.87,701.11 L366.27,701.06 L367.67,701.01 L369.07,700.95 L370.48,700.89 L371.88,700.82 L373.28,700.74 L374.68,700.66 L376.09,700.58 L377.49,700.49 L378.89,700.39 L380.3,700.29 L381.7,700.19 L383.1,700.08 L384.5,699.97 L385.91,699.85 L387.31,699.73 L388.71,699.6 L390.11,699.47 L391.52,699.34 L392.92,699.2 L394.32,699.06 L395.72,698.92 L397.12,698.77 L398.52,698.62 L399.92,698.46 L401.32,698.3 L402.72,698.14 L404.12,697.97 L405.52,697.81 L406.92,697.63 L408.32,697.46 L409.71,697.28 L411.11,697.1 L412.51,696.92 L413.9,696.73 L415.3,696.54 L416.69,696.35 L418.09,696.16 L419.48,695.97 L420.87,695.77 L422.27,695.57 L423.66,695.37 L425.05,695.17 L426.44,694.96 L427.83,694.75 L429.22,694.55 L430.6,694.34 L431.99,694.12 L433.38,693.91 L434.76,693.7 L436.15,693.48 L437.53,693.27 L438.91,693.05 L440.3,692.83 L441.68,692.61 L443.06,692.39 L444.44,692.17 L445.81,691.95 L447.19,691.73 L448.57,691.5 L449.94,691.28 L451.31,691.06 L452.69,690.84 L454.06,690.61 L455.43,690.39 L456.8,690.17 L458.16,689.94 L459.53,689.72 L460.9,689.5 L462.26,689.28 L463.62,689.06 L464.98,688.84 L466.34,688.62 L467.7,688.4 L469.06,688.18 L470.42,687.96 L471.77,687.74 L473.12,687.53 L474.48,687.32 L475.83,687.1 L477.17,686.89 L478.52,686.68 L479.87,686.47 L481.21,686.27 L482.55,686.06 L483.89,685.86 L485.23,685.66 L486.57,685.46 L487.91,685.26 L489.24,685.07 L490.57,684.88 L491.9,684.69 L493.23,684.5 L494.56,684.31 L495.88,684.13" stroke="#8e8e8e" stroke-width="2.1" stroke-linecap="round" stroke-linejoin="round" stroke-dasharray="0 6.2"/>
<path d="M71.88,486.82 L75.92,495.97 L76.43,497.12 L76.94,498.28 L77.45,499.44 L77.96,500.6 L78.48,501.76 L78.99,502.92 L79.5,504.08 L80.01,505.24 L80.53,506.4 L81.04,507.56 L81.56,508.73 L82.07,509.89 L82.59,511.05 L83.11,512.22 L83.63,513.38 L84.14,514.55 L84.66,515.72 L85.18,516.88 L85.71,518.05 L86.23,519.21 L86.75,520.38 L87.28,521.55 L87.8,522.71 L88.33,523.88 L88.86,525.05 L89.39,526.21 L89.92,527.38 L90.45,528.55 L90.99,529.71 L91.52,530.88 L92.06,532.04 L92.6,533.21 L93.14,534.37 L93.68,535.54 L94.23,536.7 L94.77,537.87 L95.32,539.03 L95.87,540.2 L96.42,541.36 L96.97,542.52 L97.53,543.68 L98.08,544.84 L98.64,546 L99.2,547.16 L99.77,548.32 L100.33,549.48 L100.9,550.64 L101.47,551.79 L102.04,552.95 L102.62,554.1 L103.19,555.26 L103.77,556.41 L104.35,557.56 L104.94,558.71 L105.53,559.86 L106.12,561.01 L106.71,562.16 L107.3,563.3 L107.9,564.45 L108.5,565.59 L109.1,566.73 L109.71,567.87 L110.32,569.01 L110.93,570.15 L111.55,571.29 L112.17,572.42 L112.79,573.55 L113.41,574.69 L114.04,575.82 L114.67,576.94 L115.31,578.07 L115.95,579.2 L116.59,580.32 L117.23,581.44 L117.88,582.56 L118.53,583.68 L119.19,584.79 L119.85,585.91 L120.51,587.02 L121.17,588.13 L121.84,589.23 L122.52,590.34 L123.2,591.44 L123.88,592.54 L124.56,593.64 L125.25,594.74 L125.95,595.83 L126.64,596.92 L127.35,598.01 L128.05,599.1 L128.76,600.18 L129.48,601.27 L130.19,602.35 L130.92,603.42 L131.64,604.5 L132.38,605.57 L133.11,606.64 L133.85,607.7 L134.6,608.77 L135.35,609.83 L136.1,610.88 L136.86,611.94 L137.62,612.99 L138.39,614.04 L139.16,615.09 L139.94,616.13 L140.73,617.17 L141.51,618.21 L142.3,619.24 L143.1,620.27 L143.9,621.3 L144.71,622.32 L145.52,623.34 L146.33,624.36 L147.15,625.37 L147.98,626.38 L148.81,627.38 L149.64,628.39 L150.48,629.38 L151.32,630.38 L152.17,631.37 L153.02,632.36 L153.87,633.34 L154.73,634.32 L155.6,635.29 L156.47,636.26 L157.34,637.23 L158.22,638.19 L159.1,639.15 L159.99,640.1 L160.88,641.05 L161.77,641.99 L162.67,642.93 L163.58,643.87 L164.49,644.8 L165.4,645.72 L166.31,646.64 L167.24,647.56 L168.16,648.47 L169.09,649.38 L170.02,650.28 L170.96,651.18 L171.9,652.07 L172.85,652.95 L173.8,653.83 L174.76,654.71 L175.72,655.58 L176.68,656.45 L177.65,657.31 L178.62,658.16 L179.59,659.01 L180.57,659.85 L181.55,660.69 L182.54,661.52 L183.53,662.35 L184.53,663.17 L185.53,663.98 L186.53,664.79 L187.54,665.59 L188.55,666.39 L189.57,667.18 L190.58,667.96 L191.61,668.74 L192.64,669.51 L193.67,670.28 L194.7,671.04 L195.74,671.79 L196.78,672.54 L197.83,673.28 L198.88,674.01 L199.93,674.74 L200.99,675.46 L202.05,676.17 L203.12,676.88 L204.19,677.58 L205.26,678.27 L206.34,678.96 L207.42,679.64 L208.5,680.31 L209.59,680.98 L210.68,681.63 L211.77,682.29 L212.87,682.93 L213.97,683.56 L215.08,684.19 L216.19,684.82 L217.3,685.43 L218.42,686.04 L219.54,686.63 L220.66,687.23 L221.79,687.81 L222.92,688.38 L224.06,688.95 L225.19,689.51 L226.33,690.06 L227.48,690.61 L228.63,691.15 L229.78,691.67 L230.93,692.19 L232.09,692.7 L233.25,693.21 L234.42,693.7 L235.59,694.19 L236.76,694.67 L237.93,695.14 L239.11,695.6 L240.29,696.05 L241.48,696.5 L242.67,696.93 L243.86,697.36 L245.05,697.78 L246.25,698.19 L247.45,698.59 L248.66,698.99 L249.86,699.38 L251.07,699.75 L252.29,700.12 L253.5,700.49 L254.72,700.84 L255.94,701.19 L257.16,701.52 L258.39,701.85 L259.62,702.18 L260.85,702.49 L262.08,702.8 L263.32,703.1 L264.56,703.39 L265.8,703.68 L267.04,703.95 L268.29,704.22 L269.54,704.49 L270.79,704.74 L272.04,704.99 L273.3,705.23 L274.55,705.46 L275.81,705.69 L277.07,705.91 L278.34,706.12 L279.6,706.33 L280.87,706.52 L282.14,706.72 L283.41,706.9 L284.68,707.08 L285.96,707.25 L287.23,707.41 L288.51,707.57 L289.79,707.72 L291.07,707.87 L292.35,708.01 L293.63,708.14 L294.92,708.26 L296.21,708.38 L297.49,708.5 L298.78,708.6 L300.07,708.7 L301.36,708.8 L302.66,708.89 L303.95,708.97 L305.24,709.05 L306.54,709.12 L307.84,709.18 L309.14,709.24 L310.43,709.3 L311.73,709.34 L313.03,709.39 L314.34,709.42 L315.64,709.45 L316.94,709.48 L318.24,709.5 L319.55,709.51 L320.85,709.52 L322.16,709.53 L323.46,709.53 L324.77,709.52 L326.07,709.51 L327.38,709.49 L328.69,709.47 L329.99,709.44 L331.3,709.41 L332.61,709.37 L333.92,709.33 L335.22,709.29 L336.53,709.24 L337.84,709.18 L339.15,709.12 L340.46,709.05 L341.76,708.99 L343.07,708.91 L344.38,708.83 L345.69,708.75 L346.99,708.66 L348.3,708.57 L349.6,708.48 L350.91,708.38 L352.22,708.27 L353.52,708.17 L354.82,708.05 L356.13,707.94 L357.43,707.82 L358.73,707.69 L360.03,707.57 L361.33,707.43 L362.63,707.3 L363.93,707.16 L365.23,707.02 L366.53,706.87 L367.82,706.72 L369.12,706.57 L370.41,706.41 L371.71,706.25 L373,706.09 L374.29,705.92 L375.58,705.75 L376.87,705.58 L378.15,705.41 L379.44,705.23 L380.73,705.05 L382.01,704.86 L383.29,704.67 L384.58,704.48 L385.86,704.29 L387.14,704.09 L388.42,703.9 L389.69,703.69 L390.97,703.49 L392.25,703.29 L393.52,703.08 L394.8,702.87 L396.07,702.65 L397.35,702.44 L398.62,702.22 L399.89,702 L401.16,701.78 L402.43,701.56 L403.7,701.33 L404.97,701.11 L406.23,700.88 L407.5,700.65 L408.77,700.41 L410.03,700.18 L411.3,699.95 L412.56,699.71 L413.82,699.47 L415.09,699.23 L416.35,698.99 L417.61,698.75 L418.87,698.51 L420.13,698.26 L421.39,698.02 L422.65,697.77 L423.91,697.52 L425.17,697.27 L426.42,697.03 L427.68,696.78 L428.94,696.53 L430.19,696.27 L431.45,696.02 L432.71,695.77 L433.96,695.52 L435.21,695.26 L436.47,695.01 L437.72,694.76 L438.98,694.5 L440.23,694.25 L441.48,694 L442.74,693.74 L443.99,693.49 L445.24,693.23 L446.49,692.98 L447.75,692.73 L449,692.47 L450.25,692.22 L451.5,691.97 L452.75,691.71 L454,691.46 L455.25,691.21 L456.51,690.96 L457.76,690.71 L459.01,690.46 L460.26,690.21 L461.51,689.96 L462.76,689.72 L464.01,689.47 L465.26,689.23 L466.51,688.98 L467.76,688.74 L469.01,688.5 L470.26,688.26 L471.51,688.02 L472.77,687.78 L474.02,687.54 L475.27,687.31 L476.52,687.08 L477.77,686.85 L479.02,686.62 L480.28,686.39 L481.53,686.16 L482.78,685.94 L484.03,685.72" stroke="#7d633a" stroke-width="1.5" stroke-linecap="butt" stroke-linejoin="round" stroke-dasharray="7.6 10.8"/>
<path d="M69.85,515.31 L73.79,524.5 L74.29,525.68 L74.8,526.85 L75.3,528.03 L75.81,529.21 L76.32,530.39 L76.83,531.57 L77.34,532.76 L77.85,533.94 L78.36,535.12 L78.87,536.3 L79.39,537.49 L79.9,538.67 L80.42,539.86 L80.94,541.04 L81.46,542.23 L81.98,543.41 L82.51,544.6 L83.03,545.78 L83.56,546.97 L84.08,548.15 L84.61,549.34 L85.14,550.53 L85.68,551.71 L86.21,552.9 L86.75,554.09 L87.29,555.27 L87.83,556.46 L88.37,557.65 L88.91,558.83 L89.46,560.02 L90,561.2 L90.55,562.39 L91.11,563.57 L91.66,564.76 L92.22,565.94 L92.77,567.12 L93.33,568.31 L93.9,569.49 L94.46,570.67 L95.03,571.85 L95.6,573.03 L96.17,574.21 L96.75,575.39 L97.32,576.57 L97.9,577.75 L98.49,578.93 L99.07,580.1 L99.66,581.28 L100.25,582.45 L100.84,583.63 L101.44,584.8 L102.03,585.97 L102.64,587.14 L103.24,588.31 L103.85,589.48 L104.46,590.64 L105.07,591.81 L105.69,592.97 L106.3,594.14 L106.93,595.3 L107.55,596.46 L108.18,597.62 L108.81,598.77 L109.45,599.93 L110.09,601.08 L110.73,602.24 L111.37,603.39 L112.02,604.54 L112.67,605.69 L113.33,606.83 L113.99,607.98 L114.65,609.12 L115.31,610.26 L115.98,611.4 L116.66,612.53 L117.33,613.67 L118.01,614.8 L118.7,615.93 L119.38,617.06 L120.08,618.19 L120.77,619.32 L121.47,620.44 L122.17,621.56 L122.88,622.68 L123.59,623.79 L124.31,624.91 L125.03,626.02 L125.75,627.13 L126.48,628.23 L127.21,629.34 L127.95,630.44 L128.69,631.54 L129.44,632.63 L130.19,633.73 L130.94,634.82 L131.7,635.91 L132.46,636.99 L133.23,638.08 L134,639.16 L134.78,640.23 L135.56,641.31 L136.34,642.38 L137.13,643.45 L137.93,644.51 L138.73,645.57 L139.53,646.63 L140.34,647.69 L141.15,648.74 L141.97,649.79 L142.79,650.83 L143.62,651.87 L144.45,652.91 L145.29,653.94 L146.13,654.97 L146.97,655.99 L147.82,657.01 L148.68,658.02 L149.54,659.04 L150.4,660.04 L151.27,661.04 L152.15,662.04 L153.03,663.03 L153.91,664.02 L154.8,665 L155.69,665.98 L156.59,666.96 L157.5,667.92 L158.4,668.89 L159.32,669.84 L160.23,670.79 L161.16,671.74 L162.08,672.68 L163.02,673.62 L163.95,674.55 L164.9,675.47 L165.84,676.39 L166.8,677.3 L167.75,678.21 L168.71,679.11 L169.68,680 L170.65,680.89 L171.63,681.77 L172.61,682.64 L173.6,683.51 L174.59,684.37 L175.59,685.23 L176.59,686.07 L177.6,686.91 L178.61,687.75 L179.63,688.58 L180.65,689.4 L181.68,690.21 L182.71,691.01 L183.75,691.81 L184.79,692.6 L185.84,693.39 L186.89,694.16 L187.95,694.93 L189.02,695.69 L190.09,696.44 L191.16,697.19 L192.24,697.92 L193.32,698.65 L194.41,699.37 L195.51,700.09 L196.6,700.79 L197.71,701.49 L198.82,702.17 L199.93,702.85 L201.05,703.53 L202.17,704.19 L203.3,704.85 L204.43,705.49 L205.56,706.13 L206.7,706.76 L207.85,707.38 L208.99,708 L210.15,708.6 L211.3,709.2 L212.46,709.79 L213.63,710.36 L214.8,710.93 L215.97,711.5 L217.15,712.05 L218.33,712.59 L219.51,713.13 L220.7,713.65 L221.89,714.17 L223.08,714.68 L224.28,715.18 L225.48,715.67 L226.69,716.15 L227.9,716.62 L229.11,717.09 L230.32,717.54 L231.54,717.99 L232.76,718.42 L233.98,718.85 L235.21,719.26 L236.44,719.67 L237.67,720.07 L238.91,720.46 L240.15,720.84 L241.39,721.21 L242.63,721.57 L243.88,721.92 L245.13,722.27 L246.38,722.6 L247.63,722.93 L248.89,723.25 L250.15,723.56 L251.41,723.86 L252.68,724.15 L253.94,724.44 L255.21,724.71 L256.48,724.98 L257.76,725.24 L259.03,725.49 L260.31,725.73 L261.59,725.97 L262.87,726.19 L264.16,726.41 L265.44,726.62 L266.73,726.83 L268.02,727.02 L269.31,727.21 L270.6,727.39 L271.9,727.56 L273.19,727.73 L274.49,727.88 L275.79,728.03 L277.09,728.18 L278.4,728.31 L279.7,728.44 L281.01,728.56 L282.31,728.68 L283.62,728.78 L284.93,728.88 L286.24,728.98 L287.55,729.06 L288.87,729.14 L290.18,729.21 L291.5,729.28 L292.81,729.34 L294.13,729.39 L295.45,729.44 L296.77,729.48 L298.09,729.51 L299.41,729.54 L300.73,729.56 L302.06,729.57 L303.38,729.58 L304.7,729.58 L306.03,729.58 L307.35,729.57 L308.68,729.55 L310.01,729.53 L311.33,729.5 L312.66,729.47 L313.99,729.43 L315.32,729.38 L316.64,729.33 L317.97,729.28 L319.3,729.22 L320.63,729.15 L321.96,729.08 L323.29,729 L324.61,728.92 L325.94,728.83 L327.27,728.74 L328.6,728.64 L329.93,728.54 L331.26,728.43 L332.58,728.32 L333.91,728.2 L335.24,728.08 L336.57,727.95 L337.89,727.82 L339.22,727.68 L340.54,727.54 L341.87,727.4 L343.19,727.25 L344.52,727.1 L345.84,726.94 L347.16,726.78 L348.48,726.61 L349.8,726.44 L351.12,726.27 L352.44,726.09 L353.76,725.91 L355.08,725.72 L356.39,725.53 L357.71,725.34 L359.02,725.14 L360.33,724.94 L361.65,724.73 L362.96,724.53 L364.26,724.32 L365.57,724.1 L366.88,723.88 L368.18,723.66 L369.49,723.44 L370.79,723.21 L372.09,722.98 L373.39,722.75 L374.69,722.51 L375.99,722.27 L377.28,722.03 L378.58,721.78 L379.87,721.53 L381.17,721.28 L382.46,721.03 L383.75,720.77 L385.04,720.52 L386.33,720.26 L387.62,719.99 L388.9,719.73 L390.19,719.46 L391.47,719.19 L392.76,718.92 L394.04,718.64 L395.33,718.36 L396.61,718.09 L397.89,717.8 L399.17,717.52 L400.45,717.24 L401.73,716.95 L403.01,716.66 L404.29,716.37 L405.56,716.08 L406.84,715.79 L408.12,715.49 L409.39,715.2 L410.67,714.9 L411.94,714.6 L413.21,714.3 L414.49,714 L415.76,713.7 L417.03,713.39 L418.31,713.09 L419.58,712.78 L420.85,712.47 L422.12,712.17 L423.39,711.86 L424.66,711.55 L425.93,711.24 L427.2,710.93 L428.47,710.61 L429.74,710.3 L431.01,709.99 L432.28,709.68 L433.55,709.36 L434.82,709.05 L436.09,708.73 L437.35,708.42 L438.62,708.1 L439.89,707.79 L441.16,707.47 L442.43,707.16 L443.7,706.84 L444.97,706.53 L446.24,706.21 L447.51,705.9 L448.77,705.58 L450.04,705.27 L451.31,704.95 L452.58,704.64 L453.85,704.33 L455.12,704.02 L456.39,703.7 L457.66,703.39 L458.94,703.08 L460.21,702.77 L461.48,702.46 L462.75,702.15 L464.02,701.85 L465.3,701.54 L466.57,701.23 L467.84,700.93 L469.12,700.63 L470.39,700.32 L471.67,700.02 L472.95,699.72 L474.22,699.42 L475.5,699.13 L476.78,698.83 L478.06,698.54 L479.34,698.25 L480.62,697.95 L481.9,697.67 L483.18,697.38 L484.46,697.09 L485.74,696.81 L487.03,696.53 L488.31,696.25 L489.6,695.97 L490.88,695.69 L492.17,695.42 L493.46,695.15" stroke="#98c03a" stroke-width="1.5" stroke-linecap="butt" stroke-linejoin="round" stroke-dasharray="11.5 6 2.6 6"/>
<path d="M69.44,515.24 L73.54,524.36 L74.07,525.55 L74.6,526.74 L75.14,527.93 L75.67,529.12 L76.2,530.32 L76.74,531.51 L77.27,532.7 L77.8,533.89 L78.34,535.09 L78.87,536.28 L79.41,537.48 L79.94,538.67 L80.48,539.87 L81.01,541.06 L81.55,542.26 L82.09,543.45 L82.62,544.65 L83.16,545.85 L83.7,547.04 L84.24,548.24 L84.78,549.44 L85.32,550.63 L85.87,551.83 L86.41,553.03 L86.95,554.22 L87.5,555.42 L88.05,556.62 L88.6,557.81 L89.15,559.01 L89.7,560.2 L90.25,561.4 L90.8,562.59 L91.36,563.78 L91.91,564.98 L92.47,566.17 L93.03,567.36 L93.59,568.55 L94.16,569.74 L94.72,570.93 L95.29,572.12 L95.86,573.31 L96.43,574.5 L97,575.69 L97.58,576.87 L98.16,578.06 L98.74,579.24 L99.32,580.42 L99.9,581.6 L100.49,582.78 L101.08,583.96 L101.67,585.14 L102.26,586.32 L102.86,587.49 L103.46,588.67 L104.06,589.84 L104.66,591.01 L105.27,592.18 L105.88,593.35 L106.49,594.52 L107.11,595.68 L107.73,596.85 L108.35,598.01 L108.97,599.17 L109.6,600.33 L110.23,601.48 L110.87,602.64 L111.51,603.79 L112.15,604.94 L112.79,606.09 L113.44,607.24 L114.09,608.38 L114.75,609.53 L115.41,610.67 L116.07,611.81 L116.73,612.94 L117.4,614.08 L118.08,615.21 L118.76,616.34 L119.44,617.47 L120.12,618.59 L120.81,619.71 L121.51,620.83 L122.2,621.95 L122.91,623.07 L123.61,624.18 L124.32,625.29 L125.04,626.39 L125.76,627.5 L126.48,628.6 L127.21,629.7 L127.95,630.79 L128.68,631.89 L129.43,632.98 L130.17,634.06 L130.92,635.15 L131.68,636.23 L132.44,637.31 L133.21,638.38 L133.98,639.45 L134.76,640.52 L135.54,641.58 L136.33,642.65 L137.12,643.7 L137.92,644.76 L138.72,645.81 L139.53,646.86 L140.34,647.9 L141.16,648.94 L141.99,649.98 L142.82,651.01 L143.65,652.04 L144.5,653.07 L145.34,654.09 L146.19,655.11 L147.05,656.13 L147.91,657.14 L148.78,658.14 L149.65,659.14 L150.53,660.14 L151.42,661.14 L152.3,662.13 L153.2,663.11 L154.1,664.09 L155,665.07 L155.91,666.04 L156.82,667.01 L157.74,667.97 L158.67,668.93 L159.59,669.88 L160.53,670.83 L161.47,671.77 L162.41,672.71 L163.36,673.64 L164.31,674.57 L165.27,675.5 L166.23,676.42 L167.2,677.33 L168.17,678.24 L169.15,679.14 L170.13,680.04 L171.12,680.93 L172.11,681.82 L173.1,682.7 L174.1,683.57 L175.11,684.44 L176.11,685.31 L177.13,686.16 L178.15,687.02 L179.17,687.86 L180.19,688.7 L181.22,689.54 L182.26,690.37 L183.3,691.19 L184.34,692.01 L185.39,692.82 L186.44,693.62 L187.5,694.42 L188.56,695.21 L189.62,696 L190.69,696.78 L191.77,697.55 L192.84,698.31 L193.92,699.07 L195.01,699.82 L196.1,700.57 L197.19,701.31 L198.29,702.04 L199.39,702.76 L200.49,703.48 L201.6,704.19 L202.71,704.9 L203.83,705.59 L204.95,706.28 L206.07,706.96 L207.2,707.64 L208.33,708.31 L209.46,708.97 L210.6,709.62 L211.74,710.26 L212.89,710.9 L214.04,711.53 L215.19,712.15 L216.34,712.77 L217.5,713.37 L218.67,713.97 L219.83,714.56 L221,715.15 L222.17,715.72 L223.35,716.29 L224.53,716.85 L225.71,717.4 L226.9,717.94 L228.09,718.47 L229.28,719 L230.48,719.51 L231.67,720.02 L232.88,720.52 L234.08,721.01 L235.29,721.49 L236.5,721.97 L237.71,722.43 L238.93,722.89 L240.15,723.34 L241.37,723.77 L242.6,724.2 L243.83,724.62 L245.06,725.04 L246.29,725.44 L247.53,725.83 L248.77,726.21 L250.01,726.59 L251.26,726.95 L252.51,727.31 L253.76,727.65 L255.01,727.99 L256.27,728.32 L257.52,728.63 L258.79,728.94 L260.05,729.24 L261.32,729.52 L262.58,729.8 L263.85,730.07 L265.13,730.33 L266.4,730.58 L267.68,730.82 L268.96,731.05 L270.24,731.27 L271.53,731.48 L272.81,731.68 L274.1,731.88 L275.39,732.06 L276.69,732.24 L277.98,732.4 L279.28,732.56 L280.57,732.71 L281.87,732.85 L283.18,732.99 L284.48,733.11 L285.78,733.23 L287.09,733.34 L288.4,733.44 L289.71,733.53 L291.02,733.62 L292.33,733.69 L293.65,733.76 L294.96,733.82 L296.28,733.88 L297.6,733.92 L298.91,733.96 L300.23,734 L301.56,734.02 L302.88,734.04 L304.2,734.05 L305.53,734.06 L306.85,734.05 L308.18,734.04 L309.5,734.03 L310.83,734.01 L312.16,733.98 L313.49,733.94 L314.82,733.9 L316.15,733.85 L317.48,733.8 L318.81,733.74 L320.14,733.68 L321.48,733.6 L322.81,733.53 L324.14,733.45 L325.48,733.36 L326.81,733.26 L328.14,733.17 L329.48,733.06 L330.81,732.95 L332.15,732.84 L333.48,732.72 L334.81,732.59 L336.15,732.47 L337.48,732.33 L338.82,732.19 L340.15,732.05 L341.48,731.9 L342.82,731.75 L344.15,731.59 L345.48,731.43 L346.81,731.27 L348.15,731.1 L349.48,730.93 L350.81,730.75 L352.14,730.57 L353.47,730.39 L354.8,730.2 L356.12,730.01 L357.45,729.82 L358.78,729.62 L360.1,729.42 L361.43,729.21 L362.75,729.01 L364.07,728.8 L365.39,728.58 L366.71,728.37 L368.03,728.15 L369.35,727.93 L370.67,727.71 L371.98,727.48 L373.3,727.25 L374.61,727.02 L375.92,726.79 L377.23,726.55 L378.54,726.32 L379.85,726.08 L381.15,725.84 L382.46,725.6 L383.76,725.35 L385.06,725.11 L386.36,724.86 L387.65,724.61 L388.95,724.36 L390.24,724.11 L391.54,723.86 L392.83,723.6 L394.12,723.35 L395.41,723.09 L396.69,722.83 L397.98,722.57 L399.26,722.31 L400.55,722.04 L401.83,721.78 L403.11,721.51 L404.39,721.24 L405.67,720.97 L406.95,720.7 L408.23,720.43 L409.5,720.15 L410.78,719.88 L412.06,719.6 L413.33,719.32 L414.6,719.04 L415.88,718.76 L417.15,718.48 L418.42,718.2 L419.69,717.91 L420.96,717.62 L422.23,717.34 L423.5,717.05 L424.77,716.76 L426.04,716.46 L427.31,716.17 L428.57,715.88 L429.84,715.58 L431.11,715.28 L432.38,714.98 L433.65,714.68 L434.91,714.38 L436.18,714.08 L437.45,713.78 L438.71,713.47 L439.98,713.17 L441.25,712.86 L442.52,712.55 L443.79,712.24 L445.05,711.93 L446.32,711.62 L447.59,711.31 L448.86,710.99 L450.13,710.68 L451.4,710.36 L452.67,710.04 L453.94,709.72 L455.21,709.4 L456.49,709.08 L457.76,708.76 L459.03,708.44 L460.31,708.11 L461.58,707.79 L462.86,707.46 L464.14,707.14 L465.41,706.81 L466.69,706.48 L467.97,706.15 L469.25,705.82 L470.53,705.48 L471.82,705.15 L473.1,704.82 L474.39,704.48 L475.67,704.14 L476.96,703.81 L478.25,703.47 L479.54,703.13 L480.83,702.79 L482.13,702.45 L483.42,702.11 L484.72,701.76 L486.01,701.42 L487.31,701.07 L488.62,700.73 L489.92,700.38 L491.22,700.04 L492.53,699.69 L493.84,699.34" stroke="#7a6580" stroke-width="1.5" stroke-linecap="butt" stroke-linejoin="round" stroke-dasharray="13.3 5.2 2.2 5.2 2.2 5.2"/>
<path d="M97.59,421.95 L101.34,431.22 L101.84,432.45 L102.34,433.68 L102.84,434.92 L103.34,436.16 L103.83,437.4 L104.32,438.64 L104.82,439.88 L105.3,441.12 L105.79,442.37 L106.28,443.62 L106.77,444.87 L107.25,446.12 L107.73,447.37 L108.22,448.62 L108.7,449.88 L109.18,451.14 L109.66,452.39 L110.14,453.65 L110.61,454.91 L111.09,456.17 L111.57,457.44 L112.04,458.7 L112.52,459.96 L112.99,461.23 L113.46,462.5 L113.94,463.76 L114.41,465.03 L114.88,466.3 L115.36,467.57 L115.83,468.84 L116.3,470.11 L116.77,471.38 L117.24,472.65 L117.72,473.93 L118.19,475.2 L118.66,476.48 L119.13,477.75 L119.61,479.02 L120.08,480.3 L120.55,481.57 L121.03,482.85 L121.5,484.13 L121.98,485.4 L122.45,486.68 L122.93,487.96 L123.41,489.23 L123.88,490.51 L124.36,491.78 L124.84,493.06 L125.32,494.34 L125.81,495.61 L126.29,496.89 L126.77,498.16 L127.26,499.44 L127.75,500.72 L128.23,501.99 L128.72,503.26 L129.21,504.54 L129.71,505.81 L130.2,507.08 L130.7,508.36 L131.19,509.63 L131.69,510.9 L132.19,512.17 L132.69,513.44 L133.2,514.71 L133.71,515.98 L134.21,517.24 L134.72,518.51 L135.24,519.77 L135.75,521.04 L136.27,522.3 L136.79,523.56 L137.31,524.82 L137.83,526.08 L138.36,527.34 L138.89,528.6 L139.42,529.86 L139.96,531.11 L140.5,532.36 L141.04,533.61 L141.58,534.87 L142.12,536.11 L142.67,537.36 L143.22,538.61 L143.78,539.85 L144.34,541.09 L144.9,542.33 L145.46,543.57 L146.03,544.81 L146.6,546.05 L147.18,547.28 L147.76,548.51 L148.34,549.74 L148.92,550.97 L149.51,552.19 L150.1,553.42 L150.7,554.64 L151.3,555.86 L151.91,557.07 L152.51,558.29 L153.13,559.5 L153.74,560.71 L154.36,561.92 L154.99,563.12 L155.62,564.32 L156.25,565.52 L156.89,566.72 L157.53,567.92 L158.17,569.11 L158.83,570.3 L159.48,571.49 L160.14,572.67 L160.81,573.85 L161.48,575.03 L162.15,576.2 L162.83,577.38 L163.51,578.55 L164.2,579.71 L164.9,580.88 L165.6,582.04 L166.3,583.19 L167.01,584.35 L167.73,585.5 L168.45,586.65 L169.17,587.79 L169.9,588.93 L170.64,590.07 L171.38,591.2 L172.13,592.33 L172.89,593.46 L173.65,594.58 L174.41,595.7 L175.18,596.82 L175.96,597.93 L176.74,599.04 L177.53,600.14 L178.33,601.24 L179.13,602.34 L179.94,603.43 L180.75,604.52 L181.57,605.61 L182.4,606.69 L183.23,607.77 L184.07,608.84 L184.92,609.91 L185.77,610.97 L186.63,612.03 L187.49,613.09 L188.36,614.14 L189.24,615.18 L190.13,616.23 L191.02,617.26 L191.91,618.3 L192.81,619.32 L193.72,620.35 L194.64,621.36 L195.56,622.37 L196.48,623.38 L197.41,624.38 L198.35,625.38 L199.3,626.37 L200.25,627.36 L201.2,628.34 L202.16,629.31 L203.13,630.28 L204.1,631.24 L205.08,632.2 L206.06,633.15 L207.05,634.1 L208.05,635.04 L209.05,635.97 L210.05,636.9 L211.06,637.82 L212.08,638.74 L213.1,639.64 L214.13,640.55 L215.16,641.44 L216.2,642.33 L217.24,643.21 L218.29,644.09 L219.34,644.96 L220.4,645.82 L221.46,646.67 L222.53,647.52 L223.6,648.36 L224.68,649.19 L225.77,650.02 L226.85,650.84 L227.95,651.65 L229.04,652.45 L230.15,653.25 L231.25,654.04 L232.36,654.82 L233.48,655.59 L234.6,656.36 L235.73,657.12 L236.86,657.87 L237.99,658.61 L239.13,659.34 L240.28,660.07 L241.43,660.78 L242.58,661.49 L243.73,662.19 L244.9,662.89 L246.06,663.57 L247.23,664.24 L248.41,664.91 L249.58,665.57 L250.77,666.22 L251.95,666.86 L253.14,667.49 L254.34,668.11 L255.54,668.72 L256.74,669.32 L257.95,669.92 L259.16,670.5 L260.37,671.08 L261.59,671.64 L262.81,672.2 L264.04,672.75 L265.27,673.28 L266.5,673.81 L267.74,674.33 L268.98,674.84 L270.22,675.33 L271.47,675.82 L272.72,676.3 L273.97,676.76 L275.23,677.22 L276.49,677.67 L277.76,678.1 L279.03,678.53 L280.3,678.94 L281.57,679.35 L282.85,679.74 L284.13,680.13 L285.42,680.5 L286.7,680.86 L287.99,681.21 L289.29,681.55 L290.58,681.89 L291.88,682.21 L293.19,682.52 L294.49,682.82 L295.8,683.11 L297.11,683.39 L298.42,683.67 L299.74,683.93 L301.05,684.18 L302.37,684.43 L303.7,684.66 L305.02,684.89 L306.35,685.11 L307.68,685.32 L309.01,685.51 L310.34,685.71 L311.68,685.89 L313.02,686.06 L314.36,686.23 L315.7,686.38 L317.04,686.53 L318.39,686.67 L319.74,686.8 L321.09,686.93 L322.44,687.04 L323.79,687.15 L325.14,687.25 L326.5,687.35 L327.85,687.43 L329.21,687.51 L330.57,687.58 L331.93,687.65 L333.3,687.7 L334.66,687.75 L336.02,687.8 L337.39,687.83 L338.76,687.86 L340.12,687.88 L341.49,687.9 L342.86,687.91 L344.23,687.91 L345.6,687.91 L346.97,687.9 L348.35,687.88 L349.72,687.86 L351.09,687.83 L352.47,687.8 L353.84,687.76 L355.22,687.72 L356.59,687.67 L357.97,687.61 L359.34,687.55 L360.72,687.48 L362.1,687.41 L363.47,687.33 L364.85,687.25 L366.23,687.17 L367.6,687.07 L368.98,686.98 L370.35,686.88 L371.73,686.77 L373.11,686.66 L374.48,686.55 L375.86,686.43 L377.23,686.31 L378.6,686.18 L379.98,686.05 L381.35,685.92 L382.72,685.78 L384.09,685.64 L385.47,685.49 L386.84,685.34 L388.2,685.19 L389.57,685.04 L390.94,684.88 L392.31,684.72 L393.67,684.55 L395.04,684.38 L396.4,684.21 L397.76,684.04 L399.12,683.87 L400.48,683.69 L401.84,683.51 L403.2,683.32 L404.55,683.14 L405.9,682.95 L407.26,682.76 L408.61,682.57 L409.96,682.37 L411.31,682.18 L412.65,681.98 L414,681.78 L415.35,681.58 L416.69,681.37 L418.03,681.17 L419.38,680.96 L420.72,680.75 L422.06,680.54 L423.4,680.33 L424.74,680.11 L426.07,679.9 L427.41,679.68 L428.75,679.46 L430.08,679.25 L431.41,679.02 L432.75,678.8 L434.08,678.58 L435.41,678.36 L436.75,678.13 L438.08,677.91 L439.41,677.68 L440.74,677.45 L442.07,677.22 L443.4,676.99 L444.73,676.76 L446.05,676.53 L447.38,676.3 L448.71,676.07 L450.04,675.84 L451.37,675.61 L452.69,675.37 L454.02,675.14 L455.35,674.91 L456.67,674.67 L458,674.44 L459.33,674.2 L460.65,673.97 L461.98,673.74 L463.31,673.5 L464.64,673.27 L465.96,673.03 L467.29,672.8 L468.62,672.57 L469.94,672.34 L471.27,672.1 L472.6,671.87 L473.93,671.64 L475.26,671.41 L476.59,671.18 L477.92,670.95 L479.25,670.72 L480.58,670.49 L481.91,670.26 L483.24,670.03 L484.57,669.81 L485.91,669.58 L487.24,669.36 L488.57,669.14 L489.91,668.91 L491.24,668.69 L492.58,668.47 L493.92,668.26 L495.26,668.04 L496.59,667.82 L497.93,667.61 L499.27,667.4 L500.62,667.19 L501.96,666.98" stroke="#1e1e1e" stroke-width="1.4" stroke-linecap="butt" stroke-linejoin="round"/>
<circle cx="80.6" cy="488.1" r="4.2" stroke="#c41c3c" stroke-width="1.9" fill="none"/>
<circle cx="152.4" cy="617.2" r="4.2" stroke="#c41c3c" stroke-width="1.9" fill="none"/>
<circle cx="223.9" cy="680" r="4.2" stroke="#c41c3c" stroke-width="1.9" fill="none"/>
<circle cx="295.6" cy="703.3" r="4.2" stroke="#c41c3c" stroke-width="1.9" fill="none"/>
<circle cx="366.9" cy="703.6" r="4.2" stroke="#c41c3c" stroke-width="1.9" fill="none"/>
<circle cx="438.5" cy="694.4" r="4.2" stroke="#c41c3c" stroke-width="1.9" fill="none"/>
</g>
<rect x="73.8" y="431.1" width="429.3" height="342.4" fill="none" stroke="#000" stroke-width="1.8"/>
<path d="M109.58,773.5v-3.4M109.58,431.1v3.4M145.35,773.5v-6.2M145.35,431.1v6.2M181.13,773.5v-3.4M181.13,431.1v3.4M216.9,773.5v-6.2M216.9,431.1v6.2M252.68,773.5v-3.4M252.68,431.1v3.4M288.45,773.5v-6.2M288.45,431.1v6.2M324.23,773.5v-3.4M324.23,431.1v3.4M360,773.5v-6.2M360,431.1v6.2M395.78,773.5v-3.4M395.78,431.1v3.4M431.55,773.5v-6.2M431.55,431.1v6.2M467.33,773.5v-3.4M467.33,431.1v3.4M73.8,446.66h3.4M503.1,446.66h-3.4M73.8,462.23h6.2M503.1,462.23h-6.2M73.8,477.79h3.4M503.1,477.79h-3.4M73.8,493.35h6.2M503.1,493.35h-6.2M73.8,508.92h3.4M503.1,508.92h-3.4M73.8,524.48h6.2M503.1,524.48h-6.2M73.8,540.05h3.4M503.1,540.05h-3.4M73.8,555.61h6.2M503.1,555.61h-6.2M73.8,571.17h3.4M503.1,571.17h-3.4M73.8,586.74h6.2M503.1,586.74h-6.2M73.8,602.3h3.4M503.1,602.3h-3.4M73.8,617.86h6.2M503.1,617.86h-6.2M73.8,633.43h3.4M503.1,633.43h-3.4M73.8,648.99h6.2M503.1,648.99h-6.2M73.8,664.55h3.4M503.1,664.55h-3.4M73.8,680.12h6.2M503.1,680.12h-6.2M73.8,695.68h3.4M503.1,695.68h-3.4M73.8,711.25h6.2M503.1,711.25h-6.2M73.8,726.81h3.4M503.1,726.81h-3.4M73.8,742.37h6.2M503.1,742.37h-6.2M73.8,757.94h3.4M503.1,757.94h-3.4" stroke="#000" stroke-width="1.7" fill="none"/>
<g font-family="'Liberation Sans', Arial, Helvetica, sans-serif" font-size="16.3" fill="#000">
<text x="64.5" y="437.5" text-anchor="end">6</text>
<text x="64.5" y="468.63" text-anchor="end">4</text>
<text x="64.5" y="499.75" text-anchor="end">2</text>
<text x="64.5" y="530.88" text-anchor="end">0</text>
<text x="64.5" y="562.01" text-anchor="end">-2</text>
<text x="64.5" y="593.14" text-anchor="end">-4</text>
<text x="64.5" y="624.26" text-anchor="end">-6</text>
<text x="64.5" y="655.39" text-anchor="end">-8</text>
<text x="64.5" y="686.52" text-anchor="end">-10</text>
<text x="64.5" y="717.65" text-anchor="end">-12</text>
<text x="64.5" y="748.77" text-anchor="end">-14</text>
<text x="64.5" y="779.9" text-anchor="end">-16</text>
<text x="76.1" y="797" text-anchor="middle">3</text>
<text x="147.65" y="797" text-anchor="middle">3.2</text>
<text x="219.2" y="797" text-anchor="middle">3.4</text>
<text x="290.75" y="797" text-anchor="middle">3.6</text>
<text x="362.3" y="797" text-anchor="middle">3.8</text>
<text x="433.85" y="797" text-anchor="middle">4</text>
<text x="505.4" y="797" text-anchor="middle">4.2</text>
</g>
<text transform="translate(178.4,830.7) scale(0.9569,1)" x="0" y="0" font-family="'Liberation Sans', Arial, Helvetica, sans-serif" font-size="29.68">Distance r(N-O<tspan font-size="21.02" dy="6.2">w</tspan><tspan dy="-6.2">), Å</tspan></text>
<text transform="translate(24.6,601.6) rotate(-90) scale(0.9569,1)" text-anchor="middle" font-family="'Liberation Sans', Arial, Helvetica, sans-serif" font-size="29.68">Energy, kcal/mol</text>
<text x="91.8" y="753.5" font-family="'Liberation Sans', Arial, Helvetica, sans-serif" font-size="28.5">(b)</text>
<g font-family="'Liberation Sans', Arial, Helvetica, sans-serif" font-size="17.2" text-anchor="end">
<text x="295" y="477.9">HF</text>
<text x="295" y="494.9">MP2</text>
<text x="295" y="512.1">B3LYP</text>
<text x="295" y="529.1">ωB97XD</text>
<text x="295" y="545.7">B3LYPD3</text>
<text x="295" y="562.9">PFF</text>
</g>
<path d="M304.6,471.4H350.4" stroke="#8e8e8e" stroke-width="2.1" stroke-linecap="round" stroke-dasharray="0 6.2"/>
<circle cx="327.5" cy="488.4" r="4.2" stroke="#c41c3c" stroke-width="1.9" fill="none"/>
<path d="M304.6,505.6H350.4" stroke="#7d633a" stroke-width="1.5" stroke-linecap="butt" stroke-dasharray="7.6 10.8"/>
<path d="M304.6,522.6H350.4" stroke="#98c03a" stroke-width="1.5" stroke-linecap="butt" stroke-dasharray="11.5 6 2.6 6"/>
<path d="M304.6,539.2H350.4" stroke="#7a6580" stroke-width="1.5" stroke-linecap="butt" stroke-dasharray="13.3 5.2 2.2 5.2 2.2 5.2"/>
<path d="M304.6,556.4H350.4" stroke="#1e1e1e" stroke-width="1.4" stroke-linecap="butt"/>
<path d="M147.73,866.6V1209.2M219.27,866.6V1209.2M290.8,866.6V1209.2M362.33,866.6V1209.2M433.87,866.6V1209.2M76.2,900.86H505.4M76.2,935.12H505.4M76.2,969.38H505.4M76.2,1003.64H505.4M76.2,1037.9H505.4M76.2,1072.16H505.4M76.2,1106.42H505.4M76.2,1140.68H505.4M76.2,1174.94H505.4" stroke="#f4f4f4" stroke-width="1" fill="none"/>
<g clip-path="url(#clipc)" fill="none">
<path d="M98.53,873.71 L98.99,874.92 L99.44,876.13 L99.89,877.34 L100.35,878.55 L100.8,879.77 L101.25,880.98 L101.7,882.19 L102.15,883.41 L102.6,884.62 L103.05,885.84 L103.5,887.05 L103.95,888.27 L104.4,889.49 L104.85,890.7 L105.3,891.92 L105.75,893.14 L106.21,894.36 L106.66,895.58 L107.11,896.8 L107.56,898.02 L108.01,899.23 L108.46,900.45 L108.92,901.67 L109.37,902.89 L109.82,904.11 L110.28,905.33 L110.74,906.56 L111.19,907.78 L111.65,909 L112.11,910.22 L112.57,911.44 L113.03,912.66 L113.49,913.88 L113.95,915.1 L114.42,916.32 L114.88,917.54 L115.35,918.76 L115.82,919.98 L116.29,921.2 L116.76,922.42 L117.23,923.63 L117.71,924.85 L118.18,926.07 L118.66,927.29 L119.14,928.51 L119.62,929.72 L120.11,930.94 L120.59,932.15 L121.08,933.37 L121.57,934.59 L122.06,935.8 L122.56,937.01 L123.05,938.23 L123.55,939.44 L124.05,940.65 L124.56,941.86 L125.06,943.07 L125.57,944.28 L126.08,945.49 L126.6,946.7 L127.11,947.91 L127.63,949.11 L128.16,950.32 L128.68,951.53 L129.21,952.73 L129.74,953.93 L130.28,955.13 L130.81,956.34 L131.36,957.54 L131.9,958.73 L132.45,959.93 L133,961.13 L133.55,962.32 L134.11,963.52 L134.67,964.71 L135.24,965.9 L135.81,967.1 L136.38,968.29 L136.96,969.47 L137.54,970.66 L138.12,971.85 L138.71,973.03 L139.3,974.21 L139.9,975.4 L140.5,976.58 L141.1,977.75 L141.71,978.93 L142.32,980.11 L142.94,981.28 L143.56,982.45 L144.19,983.62 L144.82,984.79 L145.45,985.96 L146.09,987.13 L146.74,988.29 L147.39,989.45 L148.04,990.61 L148.7,991.77 L149.37,992.93 L150.04,994.08 L150.71,995.24 L151.39,996.39 L152.07,997.53 L152.76,998.68 L153.45,999.82 L154.15,1000.96 L154.85,1002.09 L155.56,1003.23 L156.27,1004.36 L156.99,1005.48 L157.71,1006.61 L158.44,1007.73 L159.17,1008.84 L159.91,1009.96 L160.65,1011.07 L161.4,1012.17 L162.15,1013.27 L162.91,1014.37 L163.67,1015.47 L164.44,1016.56 L165.21,1017.64 L165.99,1018.72 L166.77,1019.8 L167.56,1020.87 L168.35,1021.94 L169.15,1023 L169.95,1024.06 L170.76,1025.11 L171.58,1026.16 L172.4,1027.21 L173.22,1028.24 L174.05,1029.28 L174.88,1030.31 L175.73,1031.33 L176.57,1032.34 L177.42,1033.36 L178.28,1034.36 L179.14,1035.36 L180.01,1036.35 L180.88,1037.34 L181.76,1038.32 L182.64,1039.3 L183.53,1040.27 L184.43,1041.23 L185.33,1042.18 L186.23,1043.13 L187.14,1044.08 L188.06,1045.01 L188.98,1045.94 L189.91,1046.86 L190.84,1047.78 L191.78,1048.69 L192.73,1049.59 L193.68,1050.48 L194.63,1051.37 L195.59,1052.24 L196.56,1053.11 L197.53,1053.98 L198.51,1054.83 L199.5,1055.68 L200.49,1056.52 L201.48,1057.35 L202.48,1058.17 L203.49,1058.99 L204.5,1059.79 L205.52,1060.59 L206.55,1061.38 L207.58,1062.16 L208.62,1062.93 L209.66,1063.69 L210.71,1064.44 L211.76,1065.19 L212.82,1065.92 L213.89,1066.65 L214.96,1067.37 L216.04,1068.07 L217.12,1068.77 L218.21,1069.46 L219.31,1070.14 L220.41,1070.81 L221.52,1071.46 L222.63,1072.11 L223.75,1072.75 L224.88,1073.38 L226.01,1074 L227.15,1074.6 L228.29,1075.2 L229.44,1075.79 L230.6,1076.37 L231.76,1076.93 L232.92,1077.49 L234.09,1078.04 L235.27,1078.58 L236.45,1079.1 L237.64,1079.62 L238.83,1080.13 L240.02,1080.62 L241.22,1081.11 L242.43,1081.59 L243.64,1082.05 L244.85,1082.51 L246.07,1082.96 L247.29,1083.39 L248.52,1083.82 L249.75,1084.24 L250.99,1084.64 L252.23,1085.04 L253.47,1085.43 L254.71,1085.8 L255.96,1086.17 L257.22,1086.53 L258.47,1086.87 L259.73,1087.21 L261,1087.54 L262.26,1087.85 L263.53,1088.16 L264.8,1088.46 L266.08,1088.75 L267.36,1089.02 L268.64,1089.29 L269.92,1089.55 L271.21,1089.8 L272.49,1090.03 L273.78,1090.26 L275.08,1090.48 L276.37,1090.69 L277.67,1090.88 L278.96,1091.07 L280.26,1091.25 L281.57,1091.42 L282.87,1091.58 L284.17,1091.73 L285.48,1091.87 L286.79,1092 L288.1,1092.12 L289.41,1092.23 L290.72,1092.33 L292.03,1092.42 L293.34,1092.5 L294.66,1092.57 L295.97,1092.64 L297.29,1092.69 L298.61,1092.74 L299.93,1092.78 L301.24,1092.81 L302.56,1092.83 L303.88,1092.84 L305.21,1092.85 L306.53,1092.84 L307.85,1092.83 L309.17,1092.81 L310.49,1092.78 L311.81,1092.75 L313.14,1092.71 L314.46,1092.65 L315.78,1092.6 L317.11,1092.53 L318.43,1092.46 L319.75,1092.38 L321.07,1092.29 L322.4,1092.2 L323.72,1092.1 L325.04,1091.99 L326.36,1091.87 L327.68,1091.75 L329,1091.63 L330.32,1091.49 L331.64,1091.35 L332.96,1091.21 L334.28,1091.05 L335.59,1090.9 L336.91,1090.73 L338.22,1090.56 L339.54,1090.39 L340.85,1090.21 L342.16,1090.02 L343.47,1089.83 L344.78,1089.63 L346.09,1089.43 L347.4,1089.22 L348.7,1089.01 L350.01,1088.79 L351.31,1088.57 L352.61,1088.34 L353.92,1088.11 L355.22,1087.87 L356.52,1087.63 L357.82,1087.38 L359.11,1087.13 L360.41,1086.88 L361.71,1086.62 L363,1086.35 L364.29,1086.09 L365.59,1085.81 L366.88,1085.54 L368.17,1085.26 L369.46,1084.97 L370.75,1084.69 L372.04,1084.4 L373.32,1084.1 L374.61,1083.8 L375.89,1083.5 L377.18,1083.19 L378.46,1082.89 L379.75,1082.57 L381.03,1082.26 L382.31,1081.94 L383.59,1081.62 L384.87,1081.29 L386.15,1080.97 L387.43,1080.64 L388.7,1080.3 L389.98,1079.97 L391.26,1079.63 L392.53,1079.29 L393.81,1078.95 L395.08,1078.6 L396.35,1078.25 L397.63,1077.9 L398.9,1077.55 L400.17,1077.19 L401.44,1076.84 L402.71,1076.48 L403.98,1076.12 L405.25,1075.76 L406.52,1075.39 L407.78,1075.03 L409.05,1074.66 L410.32,1074.29 L411.58,1073.92 L412.85,1073.55 L414.11,1073.18 L415.38,1072.81 L416.64,1072.43 L417.9,1072.06 L419.17,1071.68 L420.43,1071.3 L421.69,1070.92 L422.95,1070.54 L424.21,1070.16 L425.47,1069.78 L426.73,1069.4 L427.99,1069.02 L429.25,1068.64 L430.51,1068.26 L431.77,1067.88 L433.03,1067.49 L434.29,1067.11 L435.55,1066.73 L436.8,1066.35 L438.06,1065.97 L439.32,1065.58 L440.57,1065.2 L441.83,1064.82 L443.08,1064.44 L444.34,1064.06 L445.59,1063.68 L446.85,1063.3 L448.1,1062.93 L449.36,1062.55 L450.61,1062.17 L451.87,1061.8 L453.12,1061.42 L454.38,1061.05 L455.63,1060.68 L456.88,1060.31 L458.14,1059.94 L459.39,1059.57 L460.64,1059.21 L461.9,1058.84 L463.15,1058.48 L464.4,1058.12 L465.66,1057.76 L466.91,1057.4 L468.16,1057.04 L469.41,1056.69 L470.67,1056.34 L471.92,1055.99 L473.17,1055.64 L474.43,1055.3 L475.68,1054.96 L476.93,1054.62 L478.18,1054.28 L479.44,1053.95 L480.69,1053.62 L481.94,1053.29 L483.2,1052.96 L484.45,1052.64 L485.7,1052.32 L486.96,1052 L488.21,1051.69 L489.46,1051.38 L490.72,1051.07 L491.97,1050.77 L493.23,1050.47 L494.48,1050.17 L495.74,1049.88 L496.99,1049.59 L498.25,1049.3" stroke="#8e8e8e" stroke-width="2.1" stroke-linecap="round" stroke-linejoin="round" stroke-dasharray="0 6.2"/>
<path d="M73.26,870.46 L76.34,879.98 L76.77,881.33 L77.21,882.68 L77.65,884.02 L78.08,885.37 L78.52,886.72 L78.95,888.06 L79.39,889.41 L79.82,890.75 L80.25,892.09 L80.69,893.43 L81.12,894.77 L81.56,896.11 L81.99,897.45 L82.42,898.79 L82.86,900.12 L83.29,901.46 L83.73,902.79 L84.16,904.12 L84.6,905.45 L85.04,906.78 L85.47,908.11 L85.91,909.44 L86.35,910.76 L86.79,912.09 L87.23,913.41 L87.67,914.74 L88.11,916.06 L88.55,917.38 L88.99,918.7 L89.44,920.02 L89.88,921.34 L90.33,922.65 L90.78,923.97 L91.23,925.28 L91.68,926.6 L92.13,927.91 L92.58,929.22 L93.04,930.53 L93.49,931.84 L93.95,933.15 L94.41,934.45 L94.87,935.76 L95.34,937.07 L95.8,938.37 L96.27,939.67 L96.74,940.97 L97.21,942.28 L97.68,943.58 L98.16,944.87 L98.63,946.17 L99.11,947.47 L99.6,948.76 L100.08,950.06 L100.57,951.35 L101.06,952.65 L101.55,953.94 L102.05,955.23 L102.54,956.52 L103.04,957.81 L103.55,959.09 L104.05,960.38 L104.56,961.67 L105.07,962.95 L105.59,964.24 L106.11,965.52 L106.63,966.8 L107.15,968.08 L107.68,969.36 L108.21,970.64 L108.74,971.92 L109.28,973.19 L109.82,974.47 L110.37,975.74 L110.92,977.02 L111.47,978.29 L112.02,979.56 L112.58,980.83 L113.15,982.1 L113.72,983.37 L114.29,984.64 L114.86,985.91 L115.44,987.18 L116.03,988.44 L116.61,989.71 L117.21,990.97 L117.8,992.23 L118.4,993.49 L119.01,994.75 L119.62,996.01 L120.23,997.27 L120.85,998.53 L121.47,999.79 L122.1,1001.04 L122.73,1002.3 L123.37,1003.55 L124.02,1004.81 L124.66,1006.06 L125.32,1007.31 L125.97,1008.56 L126.64,1009.81 L127.3,1011.06 L127.98,1012.31 L128.66,1013.55 L129.34,1014.8 L130.03,1016.04 L130.72,1017.28 L131.42,1018.52 L132.13,1019.75 L132.84,1020.99 L133.55,1022.22 L134.27,1023.45 L135,1024.68 L135.73,1025.9 L136.46,1027.12 L137.21,1028.34 L137.95,1029.55 L138.71,1030.77 L139.47,1031.97 L140.23,1033.18 L141,1034.38 L141.77,1035.58 L142.55,1036.77 L143.34,1037.96 L144.13,1039.14 L144.93,1040.33 L145.73,1041.5 L146.54,1042.67 L147.36,1043.84 L148.18,1045 L149.01,1046.16 L149.84,1047.31 L150.68,1048.46 L151.52,1049.6 L152.37,1050.73 L153.22,1051.86 L154.09,1052.99 L154.95,1054.1 L155.83,1055.22 L156.71,1056.32 L157.59,1057.42 L158.48,1058.51 L159.38,1059.6 L160.29,1060.68 L161.2,1061.75 L162.11,1062.82 L163.03,1063.88 L163.96,1064.93 L164.9,1065.97 L165.84,1067.01 L166.78,1068.04 L167.74,1069.06 L168.7,1070.07 L169.66,1071.07 L170.63,1072.07 L171.61,1073.06 L172.6,1074.04 L173.59,1075.01 L174.59,1075.97 L175.59,1076.92 L176.6,1077.87 L177.62,1078.8 L178.64,1079.73 L179.67,1080.65 L180.71,1081.55 L181.75,1082.45 L182.8,1083.34 L183.86,1084.21 L184.92,1085.08 L185.99,1085.94 L187.07,1086.79 L188.15,1087.62 L189.24,1088.45 L190.34,1089.26 L191.44,1090.07 L192.55,1090.86 L193.67,1091.64 L194.8,1092.41 L195.93,1093.17 L197.07,1093.92 L198.21,1094.66 L199.36,1095.38 L200.52,1096.09 L201.69,1096.79 L202.86,1097.48 L204.04,1098.16 L205.23,1098.82 L206.42,1099.47 L207.62,1100.11 L208.83,1100.73 L210.05,1101.35 L211.27,1101.95 L212.5,1102.53 L213.74,1103.1 L214.98,1103.66 L216.23,1104.21 L217.49,1104.74 L218.76,1105.26 L220.03,1105.76 L221.31,1106.25 L222.59,1106.73 L223.89,1107.2 L225.18,1107.65 L226.49,1108.09 L227.8,1108.51 L229.11,1108.93 L230.43,1109.33 L231.76,1109.71 L233.09,1110.09 L234.43,1110.45 L235.77,1110.8 L237.11,1111.14 L238.46,1111.46 L239.82,1111.77 L241.18,1112.07 L242.54,1112.36 L243.91,1112.64 L245.28,1112.9 L246.65,1113.15 L248.03,1113.39 L249.41,1113.62 L250.79,1113.83 L252.18,1114.04 L253.57,1114.23 L254.97,1114.41 L256.36,1114.58 L257.76,1114.73 L259.16,1114.88 L260.56,1115.01 L261.96,1115.14 L263.37,1115.25 L264.78,1115.35 L266.19,1115.44 L267.6,1115.52 L269.01,1115.59 L270.42,1115.64 L271.83,1115.69 L273.25,1115.73 L274.66,1115.75 L276.08,1115.76 L277.49,1115.77 L278.91,1115.76 L280.32,1115.74 L281.74,1115.71 L283.15,1115.68 L284.56,1115.63 L285.98,1115.57 L287.39,1115.5 L288.8,1115.42 L290.21,1115.33 L291.62,1115.23 L293.02,1115.13 L294.43,1115.01 L295.84,1114.88 L297.24,1114.74 L298.64,1114.6 L300.04,1114.44 L301.44,1114.28 L302.84,1114.11 L304.24,1113.93 L305.63,1113.74 L307.03,1113.54 L308.42,1113.34 L309.81,1113.13 L311.2,1112.91 L312.59,1112.68 L313.98,1112.44 L315.37,1112.2 L316.75,1111.95 L318.14,1111.7 L319.52,1111.43 L320.9,1111.16 L322.28,1110.89 L323.66,1110.6 L325.03,1110.31 L326.41,1110.02 L327.78,1109.72 L329.15,1109.41 L330.52,1109.1 L331.89,1108.78 L333.26,1108.46 L334.63,1108.13 L335.99,1107.8 L337.35,1107.46 L338.72,1107.12 L340.08,1106.77 L341.43,1106.42 L342.79,1106.06 L344.15,1105.7 L345.5,1105.34 L346.85,1104.97 L348.2,1104.6 L349.55,1104.22 L350.9,1103.84 L352.24,1103.46 L353.59,1103.07 L354.93,1102.68 L356.27,1102.29 L357.61,1101.9 L358.95,1101.5 L360.28,1101.09 L361.62,1100.69 L362.95,1100.28 L364.29,1099.87 L365.62,1099.45 L366.95,1099.04 L368.28,1098.62 L369.61,1098.19 L370.93,1097.77 L372.26,1097.34 L373.59,1096.91 L374.91,1096.48 L376.23,1096.04 L377.55,1095.6 L378.87,1095.16 L380.19,1094.72 L381.51,1094.27 L382.83,1093.83 L384.15,1093.38 L385.47,1092.92 L386.78,1092.47 L388.1,1092.02 L389.41,1091.56 L390.73,1091.1 L392.04,1090.64 L393.35,1090.18 L394.66,1089.71 L395.97,1089.25 L397.28,1088.78 L398.59,1088.31 L399.9,1087.84 L401.21,1087.37 L402.52,1086.9 L403.83,1086.42 L405.14,1085.95 L406.44,1085.47 L407.75,1085 L409.06,1084.52 L410.36,1084.04 L411.67,1083.56 L412.98,1083.08 L414.28,1082.6 L415.59,1082.12 L416.89,1081.64 L418.2,1081.15 L419.5,1080.67 L420.81,1080.19 L422.12,1079.7 L423.42,1079.22 L424.73,1078.73 L426.03,1078.25 L427.34,1077.76 L428.64,1077.28 L429.95,1076.79 L431.25,1076.31 L432.56,1075.83 L433.87,1075.34 L435.17,1074.86 L436.48,1074.37 L437.79,1073.89 L439.09,1073.41 L440.4,1072.92 L441.71,1072.44 L443.02,1071.96 L444.33,1071.48 L445.64,1071 L446.95,1070.52 L448.26,1070.04 L449.57,1069.56 L450.88,1069.09 L452.2,1068.61 L453.51,1068.14 L454.82,1067.66 L456.14,1067.19 L457.45,1066.72 L458.77,1066.25 L460.09,1065.78 L461.4,1065.32 L462.72,1064.85 L464.04,1064.39 L465.36,1063.93 L466.68,1063.47 L468.01,1063.01 L469.33,1062.55 L470.65,1062.1 L471.98,1061.64 L473.31,1061.19 L474.63,1060.74 L475.96,1060.3 L477.29,1059.85 L478.62,1059.41 L479.96,1058.97 L481.29,1058.53 L482.62,1058.1 L483.96,1057.66 L485.3,1057.23 L486.64,1056.81 L487.98,1056.38 L489.32,1055.96 L490.66,1055.54" stroke="#7d633a" stroke-width="1.5" stroke-linecap="butt" stroke-linejoin="round" stroke-dasharray="7.6 10.8"/>
<path d="M73.45,893.52 L76.14,903.15 L76.51,904.51 L76.89,905.87 L77.27,907.22 L77.66,908.58 L78.04,909.93 L78.43,911.28 L78.82,912.63 L79.22,913.98 L79.62,915.32 L80.02,916.67 L80.42,918.01 L80.83,919.35 L81.24,920.69 L81.65,922.03 L82.06,923.37 L82.48,924.71 L82.9,926.04 L83.33,927.38 L83.75,928.71 L84.18,930.04 L84.61,931.37 L85.04,932.7 L85.48,934.03 L85.92,935.35 L86.36,936.68 L86.81,938 L87.25,939.32 L87.7,940.65 L88.16,941.97 L88.61,943.29 L89.07,944.6 L89.53,945.92 L89.99,947.24 L90.46,948.55 L90.93,949.87 L91.4,951.18 L91.87,952.49 L92.35,953.8 L92.83,955.11 L93.31,956.42 L93.79,957.73 L94.28,959.04 L94.77,960.35 L95.26,961.65 L95.76,962.96 L96.25,964.26 L96.75,965.57 L97.25,966.87 L97.76,968.17 L98.27,969.47 L98.78,970.77 L99.29,972.07 L99.8,973.37 L100.32,974.67 L100.84,975.97 L101.36,977.26 L101.88,978.56 L102.41,979.86 L102.94,981.15 L103.47,982.45 L104,983.74 L104.54,985.04 L105.08,986.33 L105.62,987.62 L106.16,988.91 L106.71,990.21 L107.26,991.5 L107.81,992.79 L108.36,994.08 L108.92,995.37 L109.47,996.66 L110.04,997.95 L110.6,999.24 L111.16,1000.53 L111.73,1001.81 L112.3,1003.1 L112.88,1004.38 L113.45,1005.67 L114.03,1006.95 L114.62,1008.24 L115.2,1009.52 L115.79,1010.8 L116.39,1012.07 L116.98,1013.35 L117.58,1014.63 L118.19,1015.9 L118.79,1017.17 L119.4,1018.45 L120.02,1019.72 L120.64,1020.98 L121.26,1022.25 L121.89,1023.51 L122.52,1024.77 L123.15,1026.03 L123.79,1027.29 L124.43,1028.55 L125.08,1029.8 L125.73,1031.05 L126.39,1032.3 L127.05,1033.54 L127.71,1034.79 L128.38,1036.03 L129.06,1037.26 L129.74,1038.5 L130.43,1039.73 L131.12,1040.96 L131.81,1042.18 L132.51,1043.41 L133.22,1044.63 L133.93,1045.84 L134.64,1047.06 L135.37,1048.27 L136.09,1049.47 L136.83,1050.68 L137.57,1051.88 L138.31,1053.07 L139.06,1054.26 L139.82,1055.45 L140.58,1056.64 L141.35,1057.82 L142.12,1058.99 L142.9,1060.17 L143.69,1061.34 L144.48,1062.5 L145.28,1063.66 L146.09,1064.82 L146.9,1065.97 L147.72,1067.11 L148.55,1068.26 L149.38,1069.39 L150.22,1070.53 L151.07,1071.65 L151.92,1072.78 L152.79,1073.9 L153.65,1075.01 L154.53,1076.12 L155.41,1077.22 L156.3,1078.32 L157.2,1079.41 L158.11,1080.5 L159.02,1081.58 L159.94,1082.65 L160.87,1083.72 L161.8,1084.78 L162.74,1085.83 L163.69,1086.88 L164.65,1087.92 L165.61,1088.95 L166.59,1089.98 L167.57,1090.99 L168.55,1092 L169.55,1093 L170.55,1093.99 L171.56,1094.98 L172.58,1095.95 L173.61,1096.91 L174.64,1097.87 L175.68,1098.81 L176.73,1099.75 L177.79,1100.68 L178.85,1101.59 L179.93,1102.5 L181.01,1103.39 L182.1,1104.27 L183.19,1105.15 L184.3,1106.01 L185.41,1106.86 L186.53,1107.7 L187.66,1108.52 L188.79,1109.34 L189.94,1110.14 L191.09,1110.93 L192.25,1111.7 L193.42,1112.47 L194.6,1113.22 L195.78,1113.95 L196.98,1114.68 L198.18,1115.39 L199.38,1116.09 L200.6,1116.77 L201.82,1117.44 L203.05,1118.1 L204.29,1118.74 L205.53,1119.37 L206.78,1119.99 L208.04,1120.59 L209.3,1121.18 L210.57,1121.75 L211.84,1122.32 L213.12,1122.86 L214.4,1123.4 L215.69,1123.92 L216.99,1124.42 L218.29,1124.92 L219.59,1125.39 L220.9,1125.86 L222.21,1126.31 L223.53,1126.74 L224.85,1127.16 L226.18,1127.57 L227.5,1127.97 L228.84,1128.34 L230.17,1128.71 L231.51,1129.06 L232.85,1129.39 L234.2,1129.72 L235.54,1130.02 L236.89,1130.31 L238.25,1130.59 L239.6,1130.86 L240.96,1131.1 L242.31,1131.34 L243.67,1131.56 L245.03,1131.76 L246.4,1131.95 L247.76,1132.13 L249.13,1132.29 L250.5,1132.44 L251.86,1132.57 L253.23,1132.7 L254.61,1132.8 L255.98,1132.9 L257.35,1132.98 L258.73,1133.05 L260.11,1133.11 L261.48,1133.15 L262.86,1133.18 L264.24,1133.2 L265.62,1133.21 L267.01,1133.2 L268.39,1133.19 L269.77,1133.16 L271.16,1133.12 L272.54,1133.07 L273.93,1133 L275.32,1132.93 L276.7,1132.84 L278.09,1132.75 L279.48,1132.64 L280.87,1132.52 L282.26,1132.4 L283.65,1132.26 L285.04,1132.11 L286.43,1131.95 L287.82,1131.78 L289.21,1131.61 L290.6,1131.42 L292,1131.22 L293.39,1131.02 L294.78,1130.8 L296.17,1130.58 L297.56,1130.35 L298.95,1130.1 L300.35,1129.86 L301.74,1129.6 L303.13,1129.33 L304.52,1129.06 L305.91,1128.77 L307.3,1128.49 L308.69,1128.19 L310.08,1127.88 L311.47,1127.57 L312.85,1127.25 L314.24,1126.92 L315.63,1126.59 L317.01,1126.25 L318.4,1125.9 L319.78,1125.55 L321.17,1125.19 L322.55,1124.83 L323.93,1124.45 L325.31,1124.08 L326.69,1123.69 L328.07,1123.31 L329.45,1122.91 L330.82,1122.51 L332.2,1122.11 L333.57,1121.7 L334.94,1121.28 L336.32,1120.86 L337.69,1120.44 L339.05,1120.01 L340.42,1119.58 L341.79,1119.14 L343.15,1118.7 L344.51,1118.26 L345.87,1117.81 L347.23,1117.36 L348.59,1116.91 L349.94,1116.45 L351.3,1115.99 L352.65,1115.52 L354,1115.06 L355.35,1114.59 L356.69,1114.12 L358.03,1113.64 L359.38,1113.17 L360.71,1112.69 L362.05,1112.21 L363.39,1111.73 L364.72,1111.24 L366.05,1110.76 L367.37,1110.27 L368.7,1109.78 L370.02,1109.3 L371.34,1108.8 L372.66,1108.31 L373.98,1107.82 L375.29,1107.33 L376.61,1106.83 L377.92,1106.33 L379.23,1105.83 L380.54,1105.34 L381.84,1104.84 L383.15,1104.33 L384.45,1103.83 L385.75,1103.33 L387.05,1102.82 L388.35,1102.32 L389.64,1101.81 L390.94,1101.3 L392.23,1100.79 L393.53,1100.28 L394.82,1099.77 L396.11,1099.26 L397.4,1098.75 L398.69,1098.24 L399.97,1097.72 L401.26,1097.21 L402.55,1096.69 L403.83,1096.18 L405.12,1095.66 L406.4,1095.14 L407.69,1094.62 L408.97,1094.1 L410.25,1093.58 L411.53,1093.06 L412.81,1092.54 L414.09,1092.02 L415.38,1091.5 L416.66,1090.98 L417.94,1090.46 L419.22,1089.93 L420.5,1089.41 L421.78,1088.89 L423.06,1088.36 L424.34,1087.84 L425.62,1087.31 L426.9,1086.79 L428.18,1086.26 L429.46,1085.74 L430.75,1085.21 L432.03,1084.69 L433.31,1084.16 L434.6,1083.64 L435.88,1083.11 L437.16,1082.58 L438.45,1082.06 L439.74,1081.53 L441.02,1081.01 L442.31,1080.48 L443.6,1079.95 L444.89,1079.43 L446.18,1078.9 L447.47,1078.38 L448.77,1077.85 L450.06,1077.33 L451.36,1076.8 L452.65,1076.28 L453.95,1075.75 L455.25,1075.23 L456.55,1074.7 L457.86,1074.18 L459.16,1073.66 L460.47,1073.14 L461.77,1072.61 L463.08,1072.09 L464.4,1071.57 L465.71,1071.05 L467.02,1070.53 L468.34,1070.01 L469.66,1069.49 L470.98,1068.97 L472.31,1068.45 L473.63,1067.94 L474.96,1067.42 L476.29,1066.91 L477.62,1066.39 L478.96,1065.88 L480.29,1065.36 L481.64,1064.85 L482.98,1064.34 L484.32,1063.83 L485.67,1063.32 L487.02,1062.81 L488.38,1062.3 L489.73,1061.79 L491.09,1061.29 L492.45,1060.78" stroke="#98c03a" stroke-width="1.5" stroke-linecap="butt" stroke-linejoin="round" stroke-dasharray="11.5 6 2.6 6"/>
<path d="M73.26,894.56 L76.14,904.13 L76.55,905.53 L76.97,906.92 L77.39,908.3 L77.81,909.69 L78.24,911.08 L78.66,912.46 L79.09,913.84 L79.52,915.23 L79.96,916.61 L80.39,917.99 L80.83,919.36 L81.27,920.74 L81.71,922.12 L82.16,923.49 L82.6,924.86 L83.05,926.24 L83.5,927.61 L83.95,928.98 L84.41,930.35 L84.87,931.72 L85.33,933.08 L85.79,934.45 L86.25,935.81 L86.72,937.18 L87.18,938.54 L87.65,939.9 L88.12,941.27 L88.6,942.63 L89.07,943.99 L89.55,945.34 L90.03,946.7 L90.51,948.06 L91,949.42 L91.48,950.77 L91.97,952.13 L92.46,953.48 L92.95,954.84 L93.45,956.19 L93.94,957.54 L94.44,958.89 L94.94,960.24 L95.44,961.59 L95.94,962.94 L96.45,964.29 L96.95,965.64 L97.46,966.99 L97.97,968.34 L98.48,969.68 L99,971.03 L99.51,972.37 L100.03,973.72 L100.55,975.07 L101.07,976.41 L101.59,977.75 L102.12,979.1 L102.65,980.44 L103.17,981.78 L103.7,983.13 L104.23,984.47 L104.77,985.81 L105.3,987.15 L105.84,988.5 L106.38,989.84 L106.92,991.18 L107.46,992.52 L108,993.86 L108.55,995.2 L109.09,996.54 L109.64,997.88 L110.19,999.22 L110.74,1000.56 L111.3,1001.9 L111.85,1003.24 L112.41,1004.58 L112.97,1005.92 L113.54,1007.25 L114.1,1008.59 L114.67,1009.92 L115.24,1011.26 L115.82,1012.59 L116.39,1013.92 L116.97,1015.25 L117.56,1016.58 L118.14,1017.91 L118.73,1019.24 L119.33,1020.56 L119.92,1021.89 L120.52,1023.21 L121.13,1024.53 L121.73,1025.85 L122.34,1027.16 L122.96,1028.48 L123.58,1029.79 L124.2,1031.1 L124.83,1032.41 L125.46,1033.72 L126.1,1035.02 L126.74,1036.32 L127.38,1037.62 L128.03,1038.92 L128.69,1040.22 L129.35,1041.51 L130.01,1042.8 L130.68,1044.09 L131.36,1045.37 L132.04,1046.65 L132.72,1047.93 L133.41,1049.21 L134.11,1050.48 L134.81,1051.75 L135.52,1053.01 L136.23,1054.28 L136.95,1055.54 L137.67,1056.79 L138.4,1058.05 L139.14,1059.3 L139.89,1060.54 L140.63,1061.78 L141.39,1063.02 L142.15,1064.26 L142.92,1065.49 L143.7,1066.71 L144.48,1067.94 L145.27,1069.16 L146.07,1070.37 L146.87,1071.58 L147.68,1072.79 L148.5,1073.99 L149.33,1075.19 L150.16,1076.38 L151,1077.57 L151.85,1078.75 L152.7,1079.93 L153.57,1081.1 L154.44,1082.27 L155.32,1083.43 L156.2,1084.59 L157.1,1085.74 L158,1086.88 L158.91,1088.02 L159.83,1089.15 L160.75,1090.28 L161.69,1091.39 L162.63,1092.5 L163.58,1093.61 L164.54,1094.7 L165.5,1095.79 L166.48,1096.87 L167.46,1097.94 L168.45,1099 L169.45,1100.05 L170.46,1101.1 L171.48,1102.13 L172.5,1103.16 L173.53,1104.18 L174.58,1105.18 L175.63,1106.18 L176.68,1107.17 L177.75,1108.14 L178.83,1109.11 L179.91,1110.06 L181.01,1111 L182.11,1111.94 L183.22,1112.86 L184.34,1113.77 L185.47,1114.66 L186.61,1115.55 L187.75,1116.42 L188.91,1117.28 L190.07,1118.13 L191.25,1118.96 L192.43,1119.78 L193.62,1120.59 L194.82,1121.38 L196.03,1122.16 L197.25,1122.93 L198.47,1123.69 L199.71,1124.43 L200.95,1125.15 L202.2,1125.87 L203.45,1126.57 L204.72,1127.26 L205.99,1127.93 L207.27,1128.59 L208.55,1129.23 L209.84,1129.87 L211.14,1130.49 L212.45,1131.09 L213.76,1131.68 L215.07,1132.26 L216.39,1132.82 L217.72,1133.37 L219.05,1133.91 L220.39,1134.43 L221.74,1134.94 L223.08,1135.43 L224.44,1135.91 L225.79,1136.38 L227.15,1136.83 L228.52,1137.27 L229.89,1137.69 L231.26,1138.1 L232.64,1138.5 L234.02,1138.88 L235.4,1139.24 L236.79,1139.6 L238.18,1139.93 L239.57,1140.26 L240.96,1140.57 L242.36,1140.86 L243.76,1141.14 L245.16,1141.41 L246.56,1141.66 L247.96,1141.9 L249.37,1142.12 L250.77,1142.32 L252.18,1142.52 L253.59,1142.7 L255,1142.86 L256.42,1143.02 L257.83,1143.15 L259.25,1143.28 L260.66,1143.39 L262.08,1143.49 L263.5,1143.57 L264.92,1143.65 L266.34,1143.71 L267.76,1143.75 L269.18,1143.79 L270.61,1143.81 L272.03,1143.82 L273.46,1143.82 L274.88,1143.8 L276.31,1143.78 L277.74,1143.74 L279.17,1143.69 L280.6,1143.63 L282.03,1143.56 L283.46,1143.48 L284.89,1143.39 L286.32,1143.28 L287.75,1143.17 L289.18,1143.04 L290.61,1142.91 L292.05,1142.76 L293.48,1142.61 L294.91,1142.44 L296.35,1142.26 L297.78,1142.08 L299.21,1141.88 L300.65,1141.68 L302.08,1141.47 L303.52,1141.24 L304.95,1141.01 L306.38,1140.77 L307.82,1140.52 L309.25,1140.27 L310.68,1140 L312.11,1139.73 L313.55,1139.44 L314.98,1139.15 L316.41,1138.85 L317.84,1138.55 L319.27,1138.24 L320.7,1137.91 L322.13,1137.59 L323.56,1137.25 L324.99,1136.91 L326.42,1136.56 L327.84,1136.2 L329.27,1135.84 L330.7,1135.47 L332.12,1135.1 L333.54,1134.72 L334.97,1134.33 L336.39,1133.94 L337.81,1133.54 L339.23,1133.13 L340.65,1132.72 L342.06,1132.31 L343.48,1131.89 L344.89,1131.46 L346.31,1131.03 L347.72,1130.6 L349.13,1130.16 L350.54,1129.71 L351.95,1129.27 L353.35,1128.81 L354.76,1128.36 L356.16,1127.9 L357.56,1127.43 L358.96,1126.96 L360.36,1126.49 L361.76,1126.02 L363.15,1125.54 L364.54,1125.06 L365.94,1124.57 L367.32,1124.09 L368.71,1123.6 L370.1,1123.11 L371.48,1122.61 L372.86,1122.12 L374.24,1121.62 L375.62,1121.12 L376.99,1120.61 L378.36,1120.11 L379.73,1119.61 L381.1,1119.1 L382.47,1118.59 L383.83,1118.08 L385.19,1117.57 L386.55,1117.06 L387.91,1116.55 L389.26,1116.03 L390.61,1115.52 L391.96,1115 L393.31,1114.48 L394.66,1113.96 L396,1113.44 L397.34,1112.92 L398.68,1112.4 L400.02,1111.88 L401.36,1111.35 L402.7,1110.83 L404.03,1110.3 L405.37,1109.78 L406.7,1109.25 L408.03,1108.72 L409.36,1108.19 L410.69,1107.66 L412.01,1107.13 L413.34,1106.59 L414.67,1106.06 L415.99,1105.52 L417.31,1104.99 L418.64,1104.45 L419.96,1103.91 L421.28,1103.38 L422.6,1102.84 L423.92,1102.3 L425.24,1101.75 L426.55,1101.21 L427.87,1100.67 L429.19,1100.13 L430.51,1099.58 L431.82,1099.04 L433.14,1098.49 L434.46,1097.94 L435.77,1097.4 L437.09,1096.85 L438.41,1096.3 L439.72,1095.75 L441.04,1095.2 L442.36,1094.65 L443.68,1094.1 L444.99,1093.54 L446.31,1092.99 L447.63,1092.44 L448.95,1091.88 L450.27,1091.33 L451.59,1090.77 L452.91,1090.22 L454.23,1089.66 L455.55,1089.1 L456.87,1088.54 L458.2,1087.98 L459.52,1087.42 L460.85,1086.86 L462.17,1086.3 L463.5,1085.74 L464.83,1085.18 L466.16,1084.62 L467.49,1084.06 L468.82,1083.49 L470.16,1082.93 L471.49,1082.37 L472.83,1081.8 L474.17,1081.24 L475.51,1080.67 L476.85,1080.11 L478.19,1079.54 L479.54,1078.98 L480.88,1078.41 L482.23,1077.84 L483.58,1077.27 L484.94,1076.71 L486.29,1076.14 L487.65,1075.57 L489.01,1075 L490.37,1074.43 L491.73,1073.86 L493.1,1073.29 L494.47,1072.72 L495.84,1072.15 L497.21,1071.58 L498.59,1071.01 L499.97,1070.44 L501.35,1069.87 L502.73,1069.3" stroke="#7a6580" stroke-width="1.5" stroke-linecap="butt" stroke-linejoin="round" stroke-dasharray="13.3 5.2 2.2 5.2 2.2 5.2"/>
<path d="M72.3,979.66 L75.55,989.11 L76.01,990.45 L76.47,991.78 L76.93,993.11 L77.38,994.44 L77.84,995.78 L78.29,997.11 L78.75,998.44 L79.2,999.78 L79.65,1001.11 L80.1,1002.45 L80.55,1003.78 L81,1005.12 L81.45,1006.45 L81.9,1007.79 L82.35,1009.12 L82.8,1010.46 L83.25,1011.79 L83.7,1013.12 L84.15,1014.46 L84.6,1015.79 L85.06,1017.13 L85.51,1018.46 L85.96,1019.79 L86.41,1021.12 L86.87,1022.46 L87.32,1023.79 L87.78,1025.12 L88.24,1026.45 L88.7,1027.78 L89.16,1029.11 L89.62,1030.43 L90.08,1031.76 L90.55,1033.09 L91.01,1034.42 L91.48,1035.74 L91.95,1037.06 L92.42,1038.39 L92.9,1039.71 L93.37,1041.03 L93.85,1042.35 L94.33,1043.67 L94.82,1044.99 L95.3,1046.3 L95.79,1047.62 L96.29,1048.93 L96.78,1050.25 L97.28,1051.56 L97.78,1052.87 L98.28,1054.18 L98.79,1055.48 L99.3,1056.79 L99.81,1058.09 L100.33,1059.39 L100.85,1060.69 L101.38,1061.99 L101.91,1063.29 L102.44,1064.59 L102.97,1065.88 L103.52,1067.17 L104.06,1068.46 L104.61,1069.75 L105.16,1071.04 L105.72,1072.32 L106.28,1073.6 L106.85,1074.88 L107.42,1076.16 L108,1077.43 L108.58,1078.71 L109.17,1079.98 L109.76,1081.25 L110.36,1082.51 L110.96,1083.78 L111.57,1085.04 L112.18,1086.3 L112.8,1087.55 L113.43,1088.81 L114.06,1090.06 L114.7,1091.31 L115.34,1092.55 L115.99,1093.8 L116.64,1095.04 L117.3,1096.27 L117.97,1097.51 L118.65,1098.74 L119.33,1099.97 L120.01,1101.2 L120.71,1102.42 L121.41,1103.64 L122.12,1104.86 L122.83,1106.07 L123.56,1107.28 L124.29,1108.49 L125.02,1109.69 L125.77,1110.89 L126.52,1112.09 L127.28,1113.29 L128.05,1114.48 L128.82,1115.66 L129.61,1116.85 L130.4,1118.03 L131.2,1119.21 L132,1120.38 L132.82,1121.55 L133.64,1122.71 L134.48,1123.87 L135.32,1125.03 L136.17,1126.18 L137.03,1127.32 L137.9,1128.46 L138.77,1129.59 L139.66,1130.72 L140.56,1131.84 L141.47,1132.95 L142.38,1134.05 L143.31,1135.14 L144.25,1136.22 L145.19,1137.3 L146.15,1138.37 L147.12,1139.42 L148.1,1140.47 L149.09,1141.5 L150.09,1142.52 L151.1,1143.54 L152.12,1144.54 L153.16,1145.52 L154.2,1146.5 L155.26,1147.46 L156.33,1148.41 L157.41,1149.34 L158.5,1150.26 L159.6,1151.17 L160.71,1152.05 L161.83,1152.93 L162.97,1153.78 L164.11,1154.62 L165.26,1155.44 L166.42,1156.24 L167.59,1157.02 L168.77,1157.78 L169.96,1158.53 L171.15,1159.25 L172.36,1159.95 L173.57,1160.63 L174.8,1161.29 L176.03,1161.92 L177.27,1162.53 L178.51,1163.12 L179.76,1163.68 L181.03,1164.22 L182.29,1164.74 L183.57,1165.23 L184.85,1165.69 L186.14,1166.12 L187.43,1166.53 L188.73,1166.91 L190.04,1167.26 L191.35,1167.59 L192.67,1167.89 L194,1168.16 L195.33,1168.4 L196.66,1168.62 L198,1168.82 L199.34,1168.99 L200.69,1169.14 L202.05,1169.26 L203.4,1169.36 L204.76,1169.44 L206.13,1169.49 L207.49,1169.53 L208.86,1169.54 L210.24,1169.53 L211.61,1169.51 L212.99,1169.46 L214.37,1169.39 L215.76,1169.31 L217.14,1169.2 L218.53,1169.08 L219.92,1168.94 L221.31,1168.79 L222.7,1168.62 L224.09,1168.43 L225.49,1168.23 L226.88,1168.01 L228.27,1167.78 L229.67,1167.54 L231.06,1167.28 L232.46,1167.01 L233.85,1166.73 L235.24,1166.43 L236.63,1166.12 L238.02,1165.81 L239.41,1165.48 L240.8,1165.14 L242.19,1164.8 L243.57,1164.44 L244.95,1164.08 L246.33,1163.7 L247.71,1163.32 L249.09,1162.94 L250.46,1162.55 L251.83,1162.15 L253.19,1161.74 L254.55,1161.33 L255.91,1160.91 L257.27,1160.49 L258.62,1160.06 L259.98,1159.63 L261.32,1159.19 L262.67,1158.74 L264.01,1158.29 L265.35,1157.83 L266.69,1157.37 L268.02,1156.91 L269.36,1156.43 L270.69,1155.96 L272.01,1155.47 L273.34,1154.99 L274.66,1154.5 L275.98,1154 L277.3,1153.5 L278.61,1152.99 L279.93,1152.48 L281.24,1151.96 L282.55,1151.44 L283.85,1150.92 L285.16,1150.39 L286.46,1149.86 L287.76,1149.32 L289.06,1148.78 L290.35,1148.23 L291.65,1147.68 L292.94,1147.13 L294.23,1146.57 L295.52,1146.01 L296.8,1145.45 L298.09,1144.88 L299.37,1144.31 L300.65,1143.73 L301.93,1143.15 L303.21,1142.57 L304.49,1141.99 L305.76,1141.4 L307.04,1140.81 L308.31,1140.21 L309.58,1139.62 L310.85,1139.02 L312.12,1138.41 L313.38,1137.81 L314.65,1137.2 L315.91,1136.59 L317.17,1135.98 L318.44,1135.36 L319.7,1134.74 L320.96,1134.12 L322.21,1133.5 L323.47,1132.87 L324.73,1132.25 L325.98,1131.62 L327.24,1130.99 L328.49,1130.35 L329.74,1129.72 L330.99,1129.08 L332.24,1128.44 L333.49,1127.8 L334.74,1127.16 L335.99,1126.52 L337.24,1125.88 L338.49,1125.23 L339.73,1124.59 L340.98,1123.94 L342.23,1123.29 L343.47,1122.64 L344.72,1121.99 L345.96,1121.34 L347.21,1120.69 L348.45,1120.03 L349.69,1119.38 L350.94,1118.73 L352.18,1118.07 L353.42,1117.42 L354.67,1116.76 L355.91,1116.1 L357.15,1115.45 L358.39,1114.79 L359.64,1114.14 L360.88,1113.48 L362.12,1112.83 L363.36,1112.17 L364.61,1111.51 L365.85,1110.86 L367.09,1110.2 L368.34,1109.55 L369.58,1108.9 L370.83,1108.24 L372.07,1107.59 L373.32,1106.94 L374.56,1106.29 L375.81,1105.64 L377.06,1104.99 L378.3,1104.34 L379.55,1103.69 L380.8,1103.05 L382.05,1102.4 L383.3,1101.76 L384.55,1101.12 L385.8,1100.47 L387.05,1099.83 L388.3,1099.2 L389.56,1098.56 L390.81,1097.92 L392.06,1097.29 L393.32,1096.65 L394.58,1096.02 L395.83,1095.39 L397.09,1094.76 L398.35,1094.13 L399.6,1093.5 L400.86,1092.88 L402.12,1092.25 L403.38,1091.63 L404.64,1091.01 L405.9,1090.38 L407.17,1089.76 L408.43,1089.14 L409.69,1088.53 L410.95,1087.91 L412.22,1087.29 L413.48,1086.68 L414.75,1086.06 L416.01,1085.45 L417.28,1084.84 L418.55,1084.23 L419.81,1083.62 L421.08,1083.01 L422.35,1082.41 L423.62,1081.8 L424.89,1081.19 L426.16,1080.59 L427.43,1079.99 L428.7,1079.39 L429.97,1078.79 L431.24,1078.19 L432.52,1077.59 L433.79,1076.99 L435.06,1076.39 L436.34,1075.8 L437.61,1075.2 L438.89,1074.61 L440.16,1074.02 L441.44,1073.43 L442.71,1072.84 L443.99,1072.25 L445.27,1071.66 L446.54,1071.07 L447.82,1070.48 L449.1,1069.9 L450.38,1069.31 L451.66,1068.73 L452.94,1068.15 L454.22,1067.56 L455.5,1066.98 L456.78,1066.4 L458.06,1065.82 L459.34,1065.25 L460.62,1064.67 L461.91,1064.09 L463.19,1063.52 L464.47,1062.94 L465.76,1062.37 L467.04,1061.8 L468.32,1061.23 L469.61,1060.65 L470.89,1060.08 L472.18,1059.52 L473.46,1058.95 L474.75,1058.38 L476.03,1057.81 L477.32,1057.25 L478.61,1056.68 L479.89,1056.12 L481.18,1055.55 L482.47,1054.99 L483.76,1054.43 L485.05,1053.87 L486.33,1053.31 L487.62,1052.75 L488.91,1052.19 L490.2,1051.63 L491.49,1051.08 L492.78,1050.52 L494.07,1049.97 L495.36,1049.41 L496.65,1048.86 L497.94,1048.3 L499.23,1047.75 L500.52,1047.2 L501.82,1046.65 L503.11,1046.1 L504.4,1045.55" stroke="#1e1e1e" stroke-width="1.4" stroke-linecap="butt" stroke-linejoin="round"/>
<circle cx="104.2" cy="928.4" r="4.2" stroke="#c41c3c" stroke-width="1.9" fill="none"/>
<circle cx="176.1" cy="1054.1" r="4.2" stroke="#c41c3c" stroke-width="1.9" fill="none"/>
<circle cx="247.1" cy="1097.7" r="4.2" stroke="#c41c3c" stroke-width="1.9" fill="none"/>
<circle cx="319.2" cy="1100" r="4.2" stroke="#c41c3c" stroke-width="1.9" fill="none"/>
<circle cx="390.8" cy="1083.7" r="4.2" stroke="#c41c3c" stroke-width="1.9" fill="none"/>
<circle cx="462.6" cy="1061.1" r="4.2" stroke="#c41c3c" stroke-width="1.9" fill="none"/>
</g>
<rect x="76.2" y="866.6" width="429.2" height="342.6" fill="none" stroke="#000" stroke-width="1.8"/>
<path d="M111.97,1209.2v-3.4M111.97,866.6v3.4M147.73,1209.2v-6.2M147.73,866.6v6.2M183.5,1209.2v-3.4M183.5,866.6v3.4M219.27,1209.2v-6.2M219.27,866.6v6.2M255.03,1209.2v-3.4M255.03,866.6v3.4M290.8,1209.2v-6.2M290.8,866.6v6.2M326.57,1209.2v-3.4M326.57,866.6v3.4M362.33,1209.2v-6.2M362.33,866.6v6.2M398.1,1209.2v-3.4M398.1,866.6v3.4M433.87,1209.2v-6.2M433.87,866.6v6.2M469.63,1209.2v-3.4M469.63,866.6v3.4M76.2,883.73h3.4M505.4,883.73h-3.4M76.2,900.86h6.2M505.4,900.86h-6.2M76.2,917.99h3.4M505.4,917.99h-3.4M76.2,935.12h6.2M505.4,935.12h-6.2M76.2,952.25h3.4M505.4,952.25h-3.4M76.2,969.38h6.2M505.4,969.38h-6.2M76.2,986.51h3.4M505.4,986.51h-3.4M76.2,1003.64h6.2M505.4,1003.64h-6.2M76.2,1020.77h3.4M505.4,1020.77h-3.4M76.2,1037.9h6.2M505.4,1037.9h-6.2M76.2,1055.03h3.4M505.4,1055.03h-3.4M76.2,1072.16h6.2M505.4,1072.16h-6.2M76.2,1089.29h3.4M505.4,1089.29h-3.4M76.2,1106.42h6.2M505.4,1106.42h-6.2M76.2,1123.55h3.4M505.4,1123.55h-3.4M76.2,1140.68h6.2M505.4,1140.68h-6.2M76.2,1157.81h3.4M505.4,1157.81h-3.4M76.2,1174.94h6.2M505.4,1174.94h-6.2M76.2,1192.07h3.4M505.4,1192.07h-3.4" stroke="#000" stroke-width="1.7" fill="none"/>
<g font-family="'Liberation Sans', Arial, Helvetica, sans-serif" font-size="16.3" fill="#000">
<text x="65.5" y="873" text-anchor="end">-2</text>
<text x="65.5" y="907.26" text-anchor="end">-4</text>
<text x="65.5" y="941.52" text-anchor="end">-6</text>
<text x="65.5" y="975.78" text-anchor="end">-8</text>
<text x="65.5" y="1010.04" text-anchor="end">-10</text>
<text x="65.5" y="1044.3" text-anchor="end">-12</text>
<text x="65.5" y="1078.56" text-anchor="end">-14</text>
<text x="65.5" y="1112.82" text-anchor="end">-16</text>
<text x="65.5" y="1147.08" text-anchor="end">-18</text>
<text x="65.5" y="1181.34" text-anchor="end">-20</text>
<text x="65.5" y="1215.6" text-anchor="end">-22</text>
<text x="78.5" y="1233.5" text-anchor="middle">2.8</text>
<text x="150.03" y="1233.5" text-anchor="middle">3</text>
<text x="221.57" y="1233.5" text-anchor="middle">3.2</text>
<text x="293.1" y="1233.5" text-anchor="middle">3.4</text>
<text x="364.63" y="1233.5" text-anchor="middle">3.6</text>
<text x="436.17" y="1233.5" text-anchor="middle">3.8</text>
<text x="507.7" y="1233.5" text-anchor="middle">4</text>
</g>
<text transform="translate(181.2,1262.8) scale(0.9569,1)" x="0" y="0" font-family="'Liberation Sans', Arial, Helvetica, sans-serif" font-size="29.52">Distance r(N-O<tspan font-size="20.91" dy="6.2">w</tspan><tspan dy="-6.2">), Å</tspan></text>
<text transform="translate(27,1037.8) rotate(-90) scale(0.9569,1)" text-anchor="middle" font-family="'Liberation Sans', Arial, Helvetica, sans-serif" font-size="29.52">Energy, kcal/mol</text>
<text x="94.5" y="1185" font-family="'Liberation Sans', Arial, Helvetica, sans-serif" font-size="28.5">(c)</text>
<g font-family="'Liberation Sans', Arial, Helvetica, sans-serif" font-size="17.2" text-anchor="end">
<text x="297.3" y="916.8">HF</text>
<text x="297.3" y="933.9">MP2</text>
<text x="297.3" y="951.1">B3LYP</text>
<text x="297.3" y="967.8">ωB97XD</text>
<text x="297.3" y="984.8">B3LYPD3</text>
<text x="297.3" y="1002">PFF</text>
</g>
<path d="M307.2,910.3H352.7" stroke="#8e8e8e" stroke-width="2.1" stroke-linecap="round" stroke-dasharray="0 6.2"/>
<circle cx="329.95" cy="927.4" r="4.2" stroke="#c41c3c" stroke-width="1.9" fill="none"/>
<path d="M307.2,944.6H352.7" stroke="#7d633a" stroke-width="1.5" stroke-linecap="butt" stroke-dasharray="7.6 10.8"/>
<path d="M307.2,961.3H352.7" stroke="#98c03a" stroke-width="1.5" stroke-linecap="butt" stroke-dasharray="11.5 6 2.6 6"/>
<path d="M307.2,978.3H352.7" stroke="#7a6580" stroke-width="1.5" stroke-linecap="butt" stroke-dasharray="13.3 5.2 2.2 5.2 2.2 5.2"/>
<path d="M307.2,995.5H352.7" stroke="#1e1e1e" stroke-width="1.4" stroke-linecap="butt"/>
<g font-family="'Liberation Sans', Arial, Helvetica, sans-serif" font-size="19.2">
<text transform="translate(319.8,321) scale(1.095,1)" x="0" y="0">[DMIM]<tspan font-size="13" dy="-7">+</tspan><tspan dy="7"> - [NO</tspan><tspan font-size="13" dy="3.5">3</tspan><tspan dy="-3.5">]</tspan><tspan font-size="13" dy="-7">-</tspan></text>
</g>
<g font-family="'Liberation Sans', Arial, Helvetica, sans-serif" font-size="19.6">
<text transform="translate(325.2,625.6) scale(1.115,1)" x="0" y="0">[DMIM]<tspan font-size="13.5" dy="-7">+</tspan><tspan dy="7"> - H</tspan><tspan font-size="13.5" dy="4">2</tspan><tspan dy="-4">O</tspan></text>
<text transform="translate(364.2,1183.6) scale(1.115,1)" x="0" y="0">[NO<tspan font-size="13.5" dy="4">3</tspan><tspan dy="-4">]</tspan><tspan font-size="13.5" dy="-7">-</tspan><tspan dy="7"> - H</tspan><tspan font-size="13.5" dy="4">2</tspan><tspan dy="-4">O</tspan></text>
</g>
</svg>
</body></html>
